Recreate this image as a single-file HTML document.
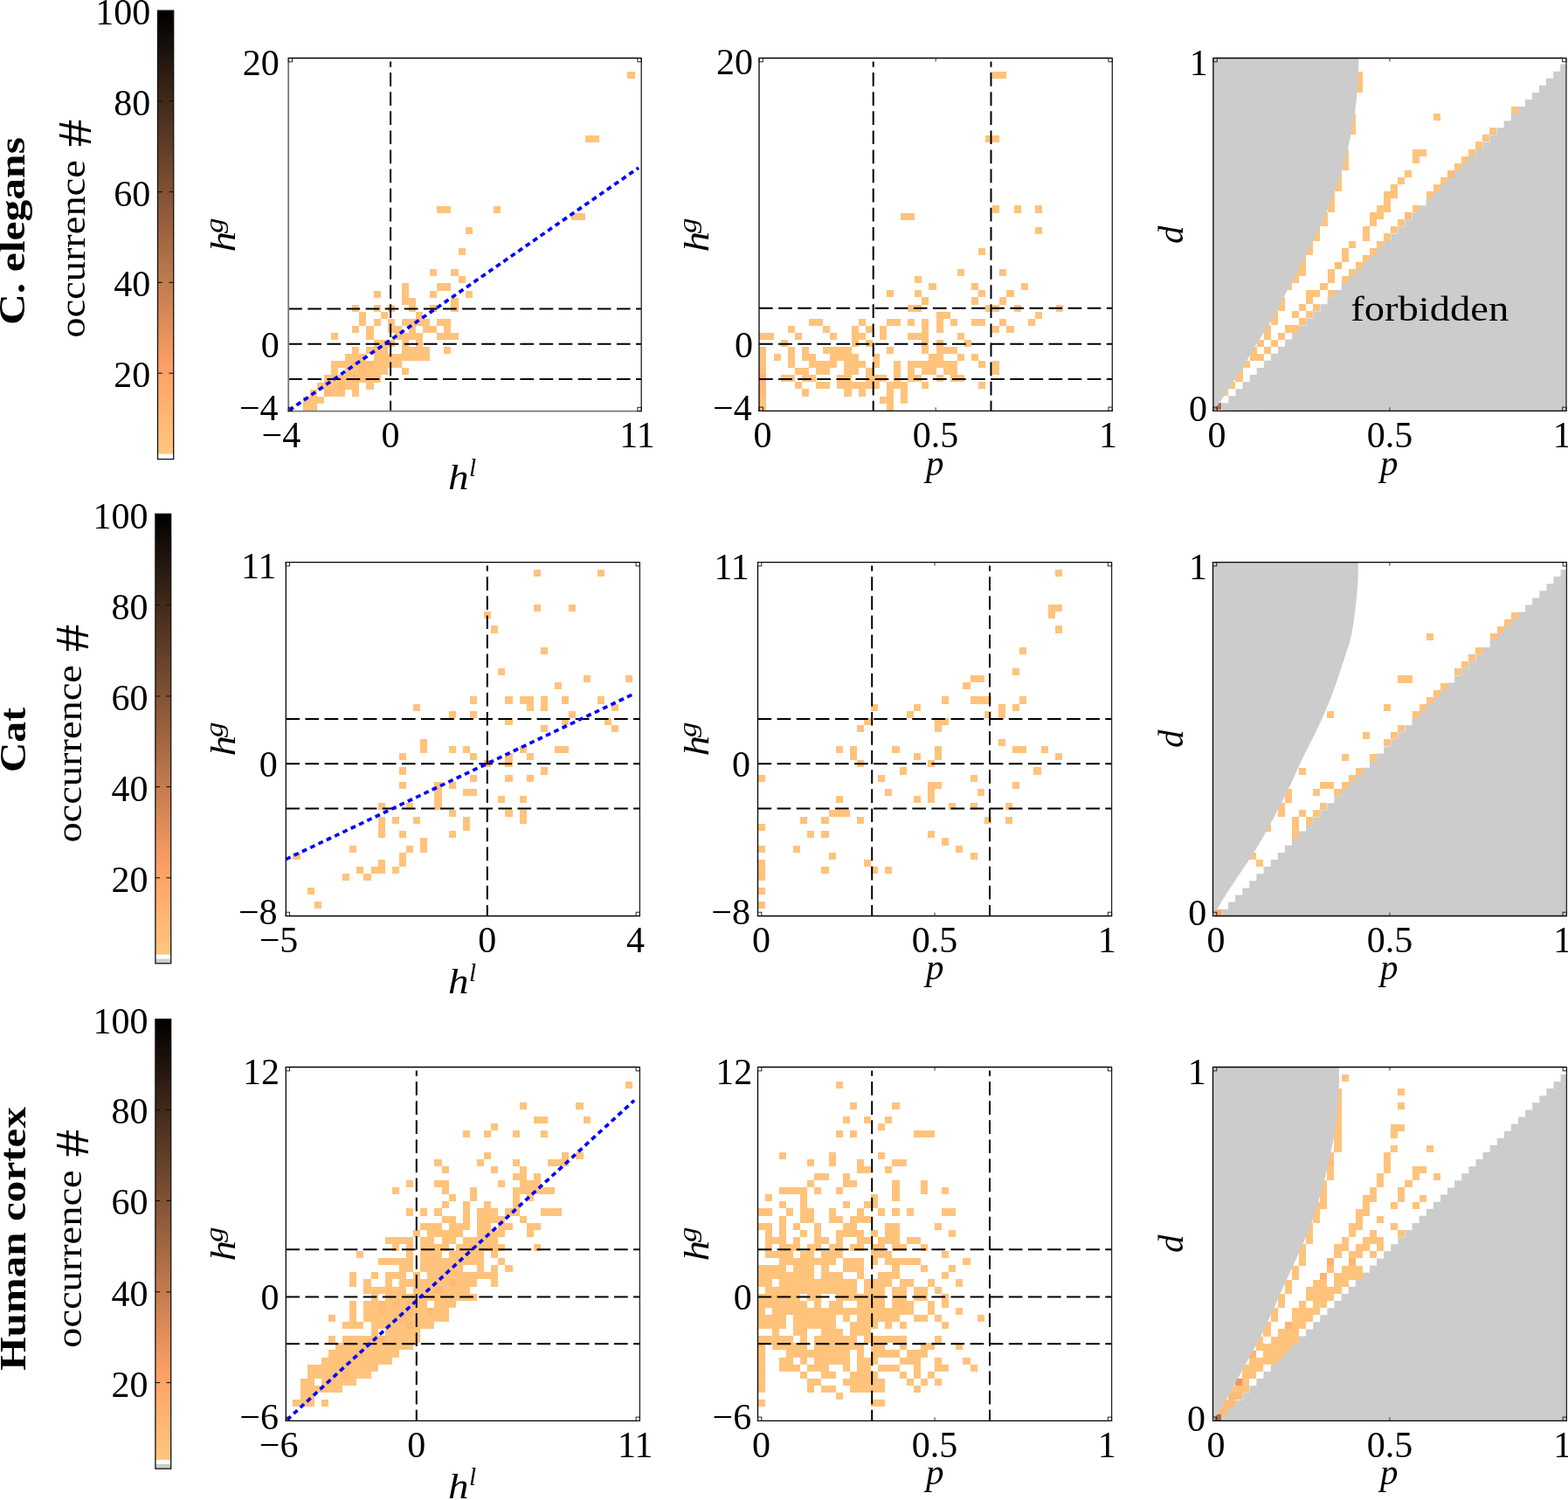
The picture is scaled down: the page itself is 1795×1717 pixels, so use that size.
<!DOCTYPE html>
<html><head><meta charset="utf-8"><title>Figure</title><style>html,body{margin:0;padding:0;background:#fff;overflow:hidden}svg{display:block}</style></head><body>
<svg width="1795" height="1717" viewBox="0 0 1795 1717" font-family="'Liberation Serif', serif">
<rect width="1795" height="1717" fill="#fff"/>
<defs><linearGradient id="cb12" x1="0" y1="0" x2="0" y2="1"><stop offset="0.000" stop-color="#000000"/><stop offset="0.050" stop-color="#100a06"/><stop offset="0.100" stop-color="#1f140d"/><stop offset="0.150" stop-color="#2f1e13"/><stop offset="0.200" stop-color="#3f2819"/><stop offset="0.250" stop-color="#4f3220"/><stop offset="0.300" stop-color="#5e3c26"/><stop offset="0.350" stop-color="#6e462c"/><stop offset="0.400" stop-color="#7e5033"/><stop offset="0.450" stop-color="#8e5a39"/><stop offset="0.500" stop-color="#9d643f"/><stop offset="0.550" stop-color="#ad6e46"/><stop offset="0.600" stop-color="#bd784c"/><stop offset="0.650" stop-color="#cd8152"/><stop offset="0.700" stop-color="#dc8b59"/><stop offset="0.750" stop-color="#ec955f"/><stop offset="0.800" stop-color="#fc9f65"/><stop offset="0.850" stop-color="#ffa96c"/><stop offset="0.900" stop-color="#ffb372"/><stop offset="0.950" stop-color="#ffbd79"/><stop offset="1.000" stop-color="#ffc77f"/></linearGradient></defs>
<rect x="180.5" y="12.1" width="18.19999999999999" height="507.70000000000005" fill="url(#cb12)"/>
<rect x="180.5" y="519.8000000000001" width="18.19999999999999" height="5.7999999999999545" fill="#fff"/>
<rect x="180.5" y="12.1" width="18.19999999999999" height="513.5" fill="none" stroke="#111" stroke-width="1.3"/>
<text x="109.18" y="27.70" font-size="42">100</text>
<line x1="180.5" y1="115.70" x2="185.7" y2="115.70" stroke="#150c06" stroke-width="1.1"/>
<line x1="193.5" y1="115.70" x2="198.7" y2="115.70" stroke="#150c06" stroke-width="1.1"/>
<text x="130.18" y="131.60" font-size="42">80</text>
<line x1="180.5" y1="219.60" x2="185.7" y2="219.60" stroke="#150c06" stroke-width="1.1"/>
<line x1="193.5" y1="219.60" x2="198.7" y2="219.60" stroke="#150c06" stroke-width="1.1"/>
<text x="130.18" y="235.50" font-size="42">60</text>
<line x1="180.5" y1="323.40" x2="185.7" y2="323.40" stroke="#150c06" stroke-width="1.1"/>
<line x1="193.5" y1="323.40" x2="198.7" y2="323.40" stroke="#150c06" stroke-width="1.1"/>
<text x="130.18" y="339.30" font-size="42">40</text>
<line x1="180.5" y1="427.20" x2="185.7" y2="427.20" stroke="#150c06" stroke-width="1.1"/>
<line x1="193.5" y1="427.20" x2="198.7" y2="427.20" stroke="#150c06" stroke-width="1.1"/>
<text x="130.18" y="443.10" font-size="42">20</text>
<defs><clipPath id="clip00"><rect x="330.20" y="66.50" width="404.00" height="404.10"/></clipPath></defs>
<g clip-path="url(#clip00)">
<g shape-rendering="crispEdges">
<rect x="718.44" y="81.96" width="8.08" height="8.08" fill="#ffc37c"/>
<rect x="669.96" y="154.70" width="16.16" height="8.08" fill="#ffc37c"/>
<rect x="500.28" y="235.52" width="16.16" height="8.08" fill="#ffc37c"/>
<rect x="564.92" y="235.52" width="8.08" height="8.08" fill="#ffc37c"/>
<rect x="653.80" y="243.60" width="16.16" height="8.08" fill="#ffc37c"/>
<rect x="532.60" y="259.77" width="8.08" height="8.08" fill="#ffc37c"/>
<rect x="524.52" y="284.01" width="8.08" height="8.08" fill="#ffc37c"/>
<rect x="492.20" y="308.26" width="8.08" height="8.08" fill="#ffc37c"/>
<rect x="516.44" y="308.26" width="8.08" height="8.08" fill="#ffc37c"/>
<rect x="524.52" y="316.34" width="8.08" height="8.08" fill="#ffc37c"/>
<rect x="459.88" y="324.42" width="8.08" height="8.08" fill="#ffc37c"/>
<rect x="500.28" y="324.42" width="16.16" height="8.08" fill="#ffc37c"/>
<rect x="427.56" y="332.51" width="8.08" height="8.08" fill="#ffc37c"/>
<rect x="459.88" y="332.51" width="8.08" height="8.08" fill="#ffc37c"/>
<rect x="492.20" y="332.51" width="8.08" height="8.08" fill="#ffc37c"/>
<rect x="532.60" y="332.51" width="8.08" height="8.08" fill="#ffc37c"/>
<rect x="459.88" y="340.59" width="16.16" height="8.08" fill="#ffc37c"/>
<rect x="516.44" y="340.59" width="8.08" height="8.08" fill="#ffc37c"/>
<rect x="403.32" y="348.67" width="8.08" height="8.08" fill="#ffc37c"/>
<rect x="427.56" y="348.67" width="8.08" height="8.08" fill="#ffc37c"/>
<rect x="443.72" y="348.67" width="8.08" height="8.08" fill="#ffc37c"/>
<rect x="467.96" y="348.67" width="8.08" height="8.08" fill="#ffc37c"/>
<rect x="492.20" y="348.67" width="8.08" height="8.08" fill="#ffc37c"/>
<rect x="516.44" y="348.67" width="8.08" height="8.08" fill="#ffc37c"/>
<rect x="411.40" y="356.75" width="8.08" height="8.08" fill="#ffc37c"/>
<rect x="435.64" y="356.75" width="8.08" height="8.08" fill="#ffc37c"/>
<rect x="476.04" y="356.75" width="8.08" height="8.08" fill="#ffc37c"/>
<rect x="411.40" y="364.83" width="8.08" height="8.08" fill="#ffc37c"/>
<rect x="427.56" y="364.83" width="8.08" height="8.08" fill="#ffc37c"/>
<rect x="443.72" y="364.83" width="8.08" height="8.08" fill="#ffc37c"/>
<rect x="459.88" y="364.83" width="32.32" height="8.08" fill="#ffc37c"/>
<rect x="500.28" y="364.83" width="16.16" height="8.08" fill="#ffc37c"/>
<rect x="403.32" y="372.92" width="8.08" height="8.08" fill="#ffc37c"/>
<rect x="419.48" y="372.92" width="8.08" height="8.08" fill="#ffc37c"/>
<rect x="443.72" y="372.92" width="16.16" height="8.08" fill="#ffc37c"/>
<rect x="467.96" y="372.92" width="8.08" height="8.08" fill="#ffc37c"/>
<rect x="484.12" y="372.92" width="16.16" height="8.08" fill="#ffc37c"/>
<rect x="508.36" y="372.92" width="8.08" height="8.08" fill="#ffc37c"/>
<rect x="379.08" y="381.00" width="8.08" height="8.08" fill="#ffc37c"/>
<rect x="419.48" y="381.00" width="8.08" height="8.08" fill="#ffc37c"/>
<rect x="451.80" y="381.00" width="32.32" height="8.08" fill="#ffc37c"/>
<rect x="500.28" y="381.00" width="24.24" height="8.08" fill="#ffc37c"/>
<rect x="427.56" y="389.08" width="24.24" height="8.08" fill="#ffc37c"/>
<rect x="459.88" y="389.08" width="8.08" height="8.08" fill="#ffc37c"/>
<rect x="476.04" y="389.08" width="8.08" height="8.08" fill="#ffc37c"/>
<rect x="403.32" y="397.16" width="8.08" height="8.08" fill="#ffc37c"/>
<rect x="419.48" y="397.16" width="24.24" height="8.08" fill="#ffc37c"/>
<rect x="459.88" y="397.16" width="32.32" height="8.08" fill="#ffc37c"/>
<rect x="508.36" y="397.16" width="8.08" height="8.08" fill="#ffc37c"/>
<rect x="395.24" y="405.24" width="24.24" height="8.08" fill="#ffc37c"/>
<rect x="427.56" y="405.24" width="64.64" height="8.08" fill="#ffc37c"/>
<rect x="379.08" y="413.33" width="32.32" height="8.08" fill="#ffc37c"/>
<rect x="411.40" y="413.33" width="16.16" height="8.08" fill="#ffbb77"/>
<rect x="427.56" y="413.33" width="32.32" height="8.08" fill="#ffc37c"/>
<rect x="379.08" y="421.41" width="8.08" height="8.08" fill="#ffc37c"/>
<rect x="395.24" y="421.41" width="16.16" height="8.08" fill="#ffc37c"/>
<rect x="411.40" y="421.41" width="8.08" height="8.08" fill="#ffbb77"/>
<rect x="419.48" y="421.41" width="24.24" height="8.08" fill="#ffc37c"/>
<rect x="459.88" y="421.41" width="8.08" height="8.08" fill="#ffc37c"/>
<rect x="371.00" y="429.49" width="32.32" height="8.08" fill="#ffc37c"/>
<rect x="403.32" y="429.49" width="8.08" height="8.08" fill="#ffbb77"/>
<rect x="411.40" y="429.49" width="24.24" height="8.08" fill="#ffc37c"/>
<rect x="362.92" y="437.57" width="24.24" height="8.08" fill="#ffc37c"/>
<rect x="387.16" y="437.57" width="8.08" height="8.08" fill="#ffbb77"/>
<rect x="395.24" y="437.57" width="16.16" height="8.08" fill="#ffc37c"/>
<rect x="419.48" y="437.57" width="8.08" height="8.08" fill="#ffc37c"/>
<rect x="354.84" y="445.65" width="8.08" height="8.08" fill="#ffc37c"/>
<rect x="371.00" y="445.65" width="8.08" height="8.08" fill="#ffbb77"/>
<rect x="379.08" y="445.65" width="16.16" height="8.08" fill="#ffc37c"/>
<rect x="403.32" y="445.65" width="8.08" height="8.08" fill="#ffc37c"/>
<rect x="346.76" y="453.74" width="24.24" height="8.08" fill="#ffc37c"/>
<rect x="346.76" y="461.82" width="16.16" height="8.08" fill="#ffc37c"/>
</g>
</g>
<line x1="330.20" y1="353.50" x2="734.20" y2="353.50" stroke="#000" stroke-width="2" stroke-dasharray="15.7 6.4"/>
<line x1="330.20" y1="393.70" x2="734.20" y2="393.70" stroke="#000" stroke-width="2" stroke-dasharray="15.7 6.4"/>
<line x1="330.20" y1="434.10" x2="734.20" y2="434.10" stroke="#000" stroke-width="2" stroke-dasharray="15.7 6.4"/>
<line x1="447.10" y1="70.50" x2="447.10" y2="470.60" stroke="#000" stroke-width="2" stroke-dasharray="15.7 6.4" stroke-dashoffset="9.5"/>
<line x1="331.0" y1="469.7" x2="731.0" y2="192.1" stroke="#0000ff" stroke-width="3.7" stroke-dasharray="5.8 4.5"/>
<line x1="330.20" y1="66.50" x2="734.20" y2="66.50" stroke="#000" stroke-width="1.3"/>
<line x1="734.20" y1="66.50" x2="734.20" y2="470.60" stroke="#222" stroke-width="1.3"/>
<line x1="330.20" y1="65.90" x2="330.20" y2="471.20" stroke="#777" stroke-width="1.8"/>
<line x1="329.60" y1="470.60" x2="734.80" y2="470.60" stroke="#777" stroke-width="1.8"/>
<rect x="330.20" y="66.50" width="4.3" height="4.3" fill="none" stroke="#111" stroke-width="0.9"/>
<rect x="729.90" y="66.50" width="4.3" height="4.3" fill="none" stroke="#111" stroke-width="0.9"/>
<rect x="330.20" y="466.30" width="4.3" height="4.3" fill="none" stroke="#111" stroke-width="0.9"/>
<rect x="729.90" y="466.30" width="4.3" height="4.3" fill="none" stroke="#111" stroke-width="0.9"/>
<text x="277.68" y="85.50" font-size="42">20</text>
<text x="298.68" y="408.60" font-size="42">0</text>
<text x="273.90" y="480.80" font-size="42">−4</text>
<text x="299.51" y="511.90" font-size="42">−4</text>
<text x="436.60" y="511.90" font-size="42">0</text>
<text x="709.31" y="511.90" font-size="42">11</text>
<defs><clipPath id="clip01"><rect x="869.00" y="66.50" width="404.30" height="403.90"/></clipPath></defs>
<g clip-path="url(#clip01)">
<g shape-rendering="crispEdges">
<rect x="1136.24" y="81.96" width="16.17" height="8.08" fill="#ffc37c"/>
<rect x="1128.15" y="154.66" width="16.17" height="8.08" fill="#ffc37c"/>
<rect x="1136.24" y="235.44" width="8.09" height="8.08" fill="#ffc37c"/>
<rect x="1160.50" y="235.44" width="8.09" height="8.08" fill="#ffc37c"/>
<rect x="1184.75" y="235.44" width="8.09" height="8.08" fill="#ffc37c"/>
<rect x="1031.12" y="243.52" width="16.17" height="8.08" fill="#ffc37c"/>
<rect x="1184.75" y="259.67" width="8.09" height="8.08" fill="#ffc37c"/>
<rect x="1120.07" y="283.91" width="8.09" height="8.08" fill="#ffc37c"/>
<rect x="1095.81" y="308.14" width="8.09" height="8.08" fill="#ffc37c"/>
<rect x="1144.32" y="308.14" width="8.09" height="8.08" fill="#ffc37c"/>
<rect x="1047.29" y="316.22" width="8.09" height="8.08" fill="#ffc37c"/>
<rect x="1063.46" y="324.30" width="8.09" height="8.08" fill="#ffc37c"/>
<rect x="1111.98" y="324.30" width="8.09" height="8.08" fill="#ffc37c"/>
<rect x="1168.58" y="324.30" width="8.09" height="8.08" fill="#ffc37c"/>
<rect x="1014.95" y="332.37" width="8.09" height="8.08" fill="#ffc37c"/>
<rect x="1047.29" y="332.37" width="8.09" height="8.08" fill="#ffc37c"/>
<rect x="1120.07" y="332.37" width="8.09" height="8.08" fill="#ffc37c"/>
<rect x="1152.41" y="332.37" width="8.09" height="8.08" fill="#ffc37c"/>
<rect x="1055.38" y="340.45" width="8.09" height="8.08" fill="#ffc37c"/>
<rect x="1111.98" y="340.45" width="8.09" height="8.08" fill="#ffc37c"/>
<rect x="1144.32" y="340.45" width="8.09" height="8.08" fill="#ffc37c"/>
<rect x="1039.21" y="348.53" width="16.17" height="8.08" fill="#ffc37c"/>
<rect x="1128.15" y="348.53" width="16.17" height="8.08" fill="#ffc37c"/>
<rect x="1160.50" y="348.53" width="8.09" height="8.08" fill="#ffc37c"/>
<rect x="1209.01" y="348.53" width="8.09" height="8.08" fill="#ffc37c"/>
<rect x="1071.55" y="356.61" width="16.17" height="8.08" fill="#ffc37c"/>
<rect x="1184.75" y="356.61" width="8.09" height="8.08" fill="#ffc37c"/>
<rect x="926.00" y="364.69" width="16.17" height="8.08" fill="#ffc37c"/>
<rect x="982.60" y="364.69" width="8.09" height="8.08" fill="#ffc37c"/>
<rect x="1014.95" y="364.69" width="16.17" height="8.08" fill="#ffc37c"/>
<rect x="1039.21" y="364.69" width="8.09" height="8.08" fill="#ffc37c"/>
<rect x="1055.38" y="364.69" width="8.09" height="8.08" fill="#ffc37c"/>
<rect x="1071.55" y="364.69" width="8.09" height="8.08" fill="#ffc37c"/>
<rect x="1087.72" y="364.69" width="8.09" height="8.08" fill="#ffc37c"/>
<rect x="1111.98" y="364.69" width="16.17" height="8.08" fill="#ffc37c"/>
<rect x="1144.32" y="364.69" width="8.09" height="8.08" fill="#ffc37c"/>
<rect x="1176.67" y="364.69" width="8.09" height="8.08" fill="#ffc37c"/>
<rect x="901.74" y="372.76" width="8.09" height="8.08" fill="#ffc37c"/>
<rect x="942.17" y="372.76" width="8.09" height="8.08" fill="#ffc37c"/>
<rect x="974.52" y="372.76" width="8.09" height="8.08" fill="#ffc37c"/>
<rect x="990.69" y="372.76" width="8.09" height="8.08" fill="#ffc37c"/>
<rect x="1006.86" y="372.76" width="8.09" height="8.08" fill="#ffc37c"/>
<rect x="1055.38" y="372.76" width="8.09" height="8.08" fill="#ffc37c"/>
<rect x="1071.55" y="372.76" width="8.09" height="8.08" fill="#ffc37c"/>
<rect x="1136.24" y="372.76" width="8.09" height="8.08" fill="#ffc37c"/>
<rect x="1152.41" y="372.76" width="8.09" height="8.08" fill="#ffc37c"/>
<rect x="869.40" y="380.84" width="16.17" height="8.08" fill="#ffc37c"/>
<rect x="909.83" y="380.84" width="8.09" height="8.08" fill="#ffc37c"/>
<rect x="950.26" y="380.84" width="8.09" height="8.08" fill="#ffc37c"/>
<rect x="974.52" y="380.84" width="16.17" height="8.08" fill="#ffc37c"/>
<rect x="1006.86" y="380.84" width="8.09" height="8.08" fill="#ffc37c"/>
<rect x="1039.21" y="380.84" width="24.26" height="8.08" fill="#ffc37c"/>
<rect x="1095.81" y="380.84" width="8.09" height="8.08" fill="#ffc37c"/>
<rect x="893.66" y="388.92" width="8.09" height="8.08" fill="#ffc37c"/>
<rect x="974.52" y="388.92" width="8.09" height="8.08" fill="#ffc37c"/>
<rect x="990.69" y="388.92" width="8.09" height="8.08" fill="#ffc37c"/>
<rect x="1055.38" y="388.92" width="8.09" height="8.08" fill="#ffc37c"/>
<rect x="1071.55" y="388.92" width="8.09" height="8.08" fill="#ffc37c"/>
<rect x="1103.89" y="388.92" width="8.09" height="8.08" fill="#ffc37c"/>
<rect x="869.40" y="397.00" width="8.09" height="8.08" fill="#ffc37c"/>
<rect x="901.74" y="397.00" width="8.09" height="8.08" fill="#ffc37c"/>
<rect x="917.92" y="397.00" width="8.09" height="8.08" fill="#ffc37c"/>
<rect x="942.17" y="397.00" width="32.34" height="8.08" fill="#ffc37c"/>
<rect x="1014.95" y="397.00" width="8.09" height="8.08" fill="#ffc37c"/>
<rect x="1055.38" y="397.00" width="8.09" height="8.08" fill="#ffc37c"/>
<rect x="1071.55" y="397.00" width="24.26" height="8.08" fill="#ffc37c"/>
<rect x="869.40" y="405.08" width="8.09" height="8.08" fill="#ffc37c"/>
<rect x="885.57" y="405.08" width="8.09" height="8.08" fill="#ffc37c"/>
<rect x="901.74" y="405.08" width="8.09" height="8.08" fill="#ffc37c"/>
<rect x="917.92" y="405.08" width="16.17" height="8.08" fill="#ffc37c"/>
<rect x="950.26" y="405.08" width="32.34" height="8.08" fill="#ffc37c"/>
<rect x="998.78" y="405.08" width="8.09" height="8.08" fill="#ffc37c"/>
<rect x="1063.46" y="405.08" width="16.17" height="8.08" fill="#ffc37c"/>
<rect x="1095.81" y="405.08" width="8.09" height="8.08" fill="#ffc37c"/>
<rect x="1111.98" y="405.08" width="8.09" height="8.08" fill="#ffc37c"/>
<rect x="869.40" y="413.15" width="8.09" height="8.08" fill="#ffc37c"/>
<rect x="901.74" y="413.15" width="8.09" height="8.08" fill="#ffc37c"/>
<rect x="926.00" y="413.15" width="32.34" height="8.08" fill="#ffc37c"/>
<rect x="966.43" y="413.15" width="24.26" height="8.08" fill="#ffc37c"/>
<rect x="998.78" y="413.15" width="8.09" height="8.08" fill="#ffc37c"/>
<rect x="1023.03" y="413.15" width="8.09" height="8.08" fill="#ffc37c"/>
<rect x="1039.21" y="413.15" width="56.60" height="8.08" fill="#ffc37c"/>
<rect x="1120.07" y="413.15" width="8.09" height="8.08" fill="#ffc37c"/>
<rect x="1136.24" y="413.15" width="8.09" height="8.08" fill="#ffc37c"/>
<rect x="869.40" y="421.23" width="8.09" height="8.08" fill="#ffbb77"/>
<rect x="909.83" y="421.23" width="16.17" height="8.08" fill="#ffc37c"/>
<rect x="934.09" y="421.23" width="16.17" height="8.08" fill="#ffc37c"/>
<rect x="966.43" y="421.23" width="16.17" height="8.08" fill="#ffc37c"/>
<rect x="990.69" y="421.23" width="8.09" height="8.08" fill="#ffc37c"/>
<rect x="1023.03" y="421.23" width="8.09" height="8.08" fill="#ffc37c"/>
<rect x="1039.21" y="421.23" width="8.09" height="8.08" fill="#ffc37c"/>
<rect x="1055.38" y="421.23" width="16.17" height="8.08" fill="#ffc37c"/>
<rect x="1079.64" y="421.23" width="16.17" height="8.08" fill="#ffc37c"/>
<rect x="1136.24" y="421.23" width="8.09" height="8.08" fill="#ffc37c"/>
<rect x="869.40" y="429.31" width="8.09" height="8.08" fill="#ffb372"/>
<rect x="893.66" y="429.31" width="16.17" height="8.08" fill="#ffc37c"/>
<rect x="917.92" y="429.31" width="16.17" height="8.08" fill="#ffc37c"/>
<rect x="958.35" y="429.31" width="16.17" height="8.08" fill="#ffc37c"/>
<rect x="990.69" y="429.31" width="24.26" height="8.08" fill="#ffc37c"/>
<rect x="1023.03" y="429.31" width="8.09" height="8.08" fill="#ffc37c"/>
<rect x="1039.21" y="429.31" width="16.17" height="8.08" fill="#ffc37c"/>
<rect x="1071.55" y="429.31" width="8.09" height="8.08" fill="#ffc37c"/>
<rect x="1087.72" y="429.31" width="16.17" height="8.08" fill="#ffc37c"/>
<rect x="869.40" y="437.39" width="8.09" height="8.08" fill="#ffbb77"/>
<rect x="909.83" y="437.39" width="8.09" height="8.08" fill="#ffc37c"/>
<rect x="934.09" y="437.39" width="16.17" height="8.08" fill="#ffc37c"/>
<rect x="958.35" y="437.39" width="48.52" height="8.08" fill="#ffc37c"/>
<rect x="1014.95" y="437.39" width="24.26" height="8.08" fill="#ffc37c"/>
<rect x="1055.38" y="437.39" width="8.09" height="8.08" fill="#ffc37c"/>
<rect x="1120.07" y="437.39" width="8.09" height="8.08" fill="#ffc37c"/>
<rect x="869.40" y="445.47" width="8.09" height="8.08" fill="#ffbb77"/>
<rect x="917.92" y="445.47" width="8.09" height="8.08" fill="#ffc37c"/>
<rect x="966.43" y="445.47" width="8.09" height="8.08" fill="#ffc37c"/>
<rect x="982.60" y="445.47" width="8.09" height="8.08" fill="#ffc37c"/>
<rect x="1014.95" y="445.47" width="8.09" height="8.08" fill="#ffc37c"/>
<rect x="1031.12" y="445.47" width="8.09" height="8.08" fill="#ffc37c"/>
<rect x="869.40" y="453.54" width="8.09" height="8.08" fill="#ffc37c"/>
<rect x="1006.86" y="453.54" width="16.17" height="8.08" fill="#ffc37c"/>
<rect x="1031.12" y="453.54" width="8.09" height="8.08" fill="#ffc37c"/>
<rect x="869.40" y="461.62" width="8.09" height="8.08" fill="#ffc37c"/>
<rect x="1014.95" y="461.62" width="8.09" height="8.08" fill="#ffc37c"/>
</g>
</g>
<line x1="869.00" y1="352.80" x2="1273.30" y2="352.80" stroke="#000" stroke-width="2" stroke-dasharray="15.7 6.4"/>
<line x1="869.00" y1="393.70" x2="1273.30" y2="393.70" stroke="#000" stroke-width="2" stroke-dasharray="15.7 6.4"/>
<line x1="869.00" y1="434.00" x2="1273.30" y2="434.00" stroke="#000" stroke-width="2" stroke-dasharray="15.7 6.4"/>
<line x1="999.70" y1="70.50" x2="999.70" y2="470.40" stroke="#000" stroke-width="2" stroke-dasharray="15.7 6.4" stroke-dashoffset="9.5"/>
<line x1="1134.50" y1="70.50" x2="1134.50" y2="470.40" stroke="#000" stroke-width="2" stroke-dasharray="15.7 6.4" stroke-dashoffset="9.5"/>
<line x1="869.00" y1="66.50" x2="1273.30" y2="66.50" stroke="#000" stroke-width="1.3"/>
<line x1="1273.30" y1="66.50" x2="1273.30" y2="470.40" stroke="#222" stroke-width="1.3"/>
<line x1="869.00" y1="65.90" x2="869.00" y2="471.00" stroke="#000" stroke-width="1.3"/>
<line x1="868.40" y1="470.40" x2="1273.90" y2="470.40" stroke="#000" stroke-width="1.3"/>
<rect x="869.00" y="66.50" width="4.3" height="4.3" fill="none" stroke="#111" stroke-width="0.9"/>
<rect x="1269.00" y="66.50" width="4.3" height="4.3" fill="none" stroke="#111" stroke-width="0.9"/>
<rect x="869.00" y="466.10" width="4.3" height="4.3" fill="none" stroke="#111" stroke-width="0.9"/>
<rect x="1269.00" y="466.10" width="4.3" height="4.3" fill="none" stroke="#111" stroke-width="0.9"/>
<line x1="1071.15" y1="66.5" x2="1071.15" y2="70.5" stroke="#333" stroke-width="1"/>
<line x1="1071.15" y1="470.4" x2="1071.15" y2="466.4" stroke="#333" stroke-width="1"/>
<text x="819.88" y="85.30" font-size="42">20</text>
<text x="840.88" y="408.60" font-size="42">0</text>
<text x="816.10" y="480.60" font-size="42">−4</text>
<text x="862.50" y="511.70" font-size="42">0</text>
<text x="1044.85" y="511.70" font-size="42">0.5</text>
<text x="1258.07" y="511.70" font-size="42">1</text>
<defs><clipPath id="clip02"><rect x="1388.90" y="66.50" width="404.10" height="403.90"/></clipPath></defs>
<g clip-path="url(#clip02)">
<polygon points="1796.00,73.58 1786.22,73.58 1786.22,81.66 1778.14,81.66 1778.14,89.73 1770.05,89.73 1770.05,97.81 1761.97,97.81 1761.97,105.89 1753.89,105.89 1753.89,113.97 1745.81,113.97 1745.81,122.05 1737.73,122.05 1737.73,130.12 1729.64,130.12 1729.64,138.20 1721.56,138.20 1721.56,146.28 1713.48,146.28 1713.48,154.36 1705.40,154.36 1705.40,162.44 1697.32,162.44 1697.32,170.51 1689.23,170.51 1689.23,178.59 1681.15,178.59 1681.15,186.67 1673.07,186.67 1673.07,194.75 1664.99,194.75 1664.99,202.83 1656.91,202.83 1656.91,210.90 1648.82,210.90 1648.82,218.98 1640.74,218.98 1640.74,227.06 1632.66,227.06 1632.66,235.14 1624.58,235.14 1624.58,243.22 1616.50,243.22 1616.50,251.29 1608.41,251.29 1608.41,259.37 1600.33,259.37 1600.33,267.45 1592.25,267.45 1592.25,275.53 1584.17,275.53 1584.17,283.61 1576.09,283.61 1576.09,291.68 1568.00,291.68 1568.00,299.76 1559.92,299.76 1559.92,307.84 1551.84,307.84 1551.84,315.92 1543.76,315.92 1543.76,324.00 1535.68,324.00 1535.68,332.07 1527.59,332.07 1527.59,340.15 1519.51,340.15 1519.51,348.23 1511.43,348.23 1511.43,356.31 1503.35,356.31 1503.35,364.39 1495.27,364.39 1495.27,372.46 1487.18,372.46 1487.18,380.54 1479.10,380.54 1479.10,388.62 1471.02,388.62 1471.02,396.70 1462.94,396.70 1462.94,404.78 1454.86,404.78 1454.86,412.85 1446.77,412.85 1446.77,420.93 1438.69,420.93 1438.69,429.01 1430.61,429.01 1430.61,437.09 1422.53,437.09 1422.53,445.17 1414.45,445.17 1414.45,453.24 1406.36,453.24 1406.36,461.32 1398.28,461.32 1398.28,469.40 1796.00,473.40" fill="#cccccc"/>
<g shape-rendering="crispEdges">
<rect x="1551.84" y="81.66" width="8.08" height="8.08" fill="#ffc37c"/>
<rect x="1551.84" y="89.73" width="8.08" height="8.08" fill="#ffc37c"/>
<rect x="1551.84" y="97.81" width="8.08" height="8.08" fill="#ffc37c"/>
<rect x="1729.64" y="122.05" width="8.08" height="8.08" fill="#ffc37c"/>
<rect x="1543.76" y="130.12" width="8.08" height="8.08" fill="#ffc37c"/>
<rect x="1640.74" y="130.12" width="8.08" height="8.08" fill="#ffc37c"/>
<rect x="1543.76" y="138.20" width="8.08" height="8.08" fill="#ffc37c"/>
<rect x="1543.76" y="146.28" width="8.08" height="8.08" fill="#ffc37c"/>
<rect x="1705.40" y="146.28" width="8.08" height="8.08" fill="#ffc37c"/>
<rect x="1697.32" y="154.36" width="8.08" height="8.08" fill="#ffc37c"/>
<rect x="1689.23" y="162.44" width="8.08" height="8.08" fill="#ffc37c"/>
<rect x="1535.68" y="170.51" width="8.08" height="8.08" fill="#ffc37c"/>
<rect x="1616.50" y="170.51" width="16.16" height="8.08" fill="#ffc37c"/>
<rect x="1681.15" y="170.51" width="8.08" height="8.08" fill="#ffc37c"/>
<rect x="1535.68" y="178.59" width="8.08" height="8.08" fill="#ffc37c"/>
<rect x="1616.50" y="178.59" width="8.08" height="8.08" fill="#ffc37c"/>
<rect x="1673.07" y="178.59" width="8.08" height="8.08" fill="#ffc37c"/>
<rect x="1535.68" y="186.67" width="8.08" height="8.08" fill="#ffc37c"/>
<rect x="1664.99" y="186.67" width="8.08" height="8.08" fill="#ffc37c"/>
<rect x="1527.59" y="194.75" width="8.08" height="8.08" fill="#ffc37c"/>
<rect x="1608.41" y="194.75" width="8.08" height="8.08" fill="#ffc37c"/>
<rect x="1656.91" y="194.75" width="8.08" height="8.08" fill="#ffbb77"/>
<rect x="1527.59" y="202.83" width="8.08" height="8.08" fill="#ffc37c"/>
<rect x="1600.33" y="202.83" width="8.08" height="8.08" fill="#ffc37c"/>
<rect x="1648.82" y="202.83" width="8.08" height="8.08" fill="#ffc37c"/>
<rect x="1527.59" y="210.90" width="8.08" height="8.08" fill="#ffc37c"/>
<rect x="1592.25" y="210.90" width="8.08" height="8.08" fill="#ffc37c"/>
<rect x="1640.74" y="210.90" width="8.08" height="8.08" fill="#ffc37c"/>
<rect x="1519.51" y="218.98" width="8.08" height="8.08" fill="#ffc37c"/>
<rect x="1584.17" y="218.98" width="16.16" height="8.08" fill="#ffc37c"/>
<rect x="1632.66" y="218.98" width="8.08" height="8.08" fill="#ffc37c"/>
<rect x="1519.51" y="227.06" width="8.08" height="8.08" fill="#ffc37c"/>
<rect x="1584.17" y="227.06" width="8.08" height="8.08" fill="#ffc37c"/>
<rect x="1519.51" y="235.14" width="8.08" height="8.08" fill="#ffc37c"/>
<rect x="1576.09" y="235.14" width="16.16" height="8.08" fill="#ffc37c"/>
<rect x="1616.50" y="235.14" width="8.08" height="8.08" fill="#ffc37c"/>
<rect x="1511.43" y="243.22" width="8.08" height="8.08" fill="#ffc37c"/>
<rect x="1568.00" y="243.22" width="16.16" height="8.08" fill="#ffc37c"/>
<rect x="1608.41" y="243.22" width="8.08" height="8.08" fill="#ffbb77"/>
<rect x="1511.43" y="251.29" width="8.08" height="8.08" fill="#ffc37c"/>
<rect x="1568.00" y="251.29" width="8.08" height="8.08" fill="#ffc37c"/>
<rect x="1600.33" y="251.29" width="8.08" height="8.08" fill="#ffc37c"/>
<rect x="1503.35" y="259.37" width="8.08" height="8.08" fill="#ffc37c"/>
<rect x="1559.92" y="259.37" width="8.08" height="8.08" fill="#ffc37c"/>
<rect x="1592.25" y="259.37" width="8.08" height="8.08" fill="#ffc37c"/>
<rect x="1503.35" y="267.45" width="8.08" height="8.08" fill="#ffc37c"/>
<rect x="1559.92" y="267.45" width="8.08" height="8.08" fill="#ffc37c"/>
<rect x="1584.17" y="267.45" width="8.08" height="8.08" fill="#ffc37c"/>
<rect x="1495.27" y="275.53" width="8.08" height="8.08" fill="#ffc37c"/>
<rect x="1543.76" y="275.53" width="8.08" height="8.08" fill="#ffc37c"/>
<rect x="1576.09" y="275.53" width="8.08" height="8.08" fill="#ffc37c"/>
<rect x="1495.27" y="283.61" width="8.08" height="8.08" fill="#ffc37c"/>
<rect x="1535.68" y="283.61" width="8.08" height="8.08" fill="#ffc37c"/>
<rect x="1568.00" y="283.61" width="8.08" height="8.08" fill="#ffc37c"/>
<rect x="1487.18" y="291.68" width="8.08" height="8.08" fill="#ffc37c"/>
<rect x="1535.68" y="291.68" width="8.08" height="8.08" fill="#ffc37c"/>
<rect x="1559.92" y="291.68" width="8.08" height="8.08" fill="#ffc37c"/>
<rect x="1487.18" y="299.76" width="8.08" height="8.08" fill="#ffc37c"/>
<rect x="1527.59" y="299.76" width="8.08" height="8.08" fill="#ffbb77"/>
<rect x="1551.84" y="299.76" width="8.08" height="8.08" fill="#ffc37c"/>
<rect x="1479.10" y="307.84" width="16.16" height="8.08" fill="#ffc37c"/>
<rect x="1519.51" y="307.84" width="8.08" height="8.08" fill="#ffc37c"/>
<rect x="1543.76" y="307.84" width="8.08" height="8.08" fill="#ffc37c"/>
<rect x="1479.10" y="315.92" width="8.08" height="8.08" fill="#ffc37c"/>
<rect x="1519.51" y="315.92" width="8.08" height="8.08" fill="#ffc37c"/>
<rect x="1535.68" y="315.92" width="8.08" height="8.08" fill="#ffc37c"/>
<rect x="1471.02" y="324.00" width="8.08" height="8.08" fill="#ffc37c"/>
<rect x="1511.43" y="324.00" width="8.08" height="8.08" fill="#ffc37c"/>
<rect x="1495.27" y="332.07" width="16.16" height="8.08" fill="#ffc37c"/>
<rect x="1519.51" y="332.07" width="8.08" height="8.08" fill="#ffc37c"/>
<rect x="1462.94" y="340.15" width="8.08" height="8.08" fill="#ffc37c"/>
<rect x="1495.27" y="340.15" width="8.08" height="8.08" fill="#ffc37c"/>
<rect x="1462.94" y="348.23" width="8.08" height="8.08" fill="#ffc37c"/>
<rect x="1487.18" y="348.23" width="8.08" height="8.08" fill="#ffc37c"/>
<rect x="1503.35" y="348.23" width="8.08" height="8.08" fill="#ffc37c"/>
<rect x="1454.86" y="356.31" width="8.08" height="8.08" fill="#ffc37c"/>
<rect x="1479.10" y="356.31" width="8.08" height="8.08" fill="#ffc37c"/>
<rect x="1495.27" y="356.31" width="8.08" height="8.08" fill="#ffc37c"/>
<rect x="1454.86" y="364.39" width="8.08" height="8.08" fill="#ffc37c"/>
<rect x="1487.18" y="364.39" width="8.08" height="8.08" fill="#ffc37c"/>
<rect x="1446.77" y="372.46" width="8.08" height="8.08" fill="#ffc37c"/>
<rect x="1471.02" y="372.46" width="16.16" height="8.08" fill="#ffc37c"/>
<rect x="1446.77" y="380.54" width="8.08" height="8.08" fill="#ffc37c"/>
<rect x="1462.94" y="380.54" width="8.08" height="8.08" fill="#ffc37c"/>
<rect x="1438.69" y="388.62" width="8.08" height="8.08" fill="#ffc37c"/>
<rect x="1454.86" y="388.62" width="8.08" height="8.08" fill="#ffc37c"/>
<rect x="1430.61" y="396.70" width="8.08" height="8.08" fill="#ffc37c"/>
<rect x="1446.77" y="396.70" width="8.08" height="8.08" fill="#ffc37c"/>
<rect x="1430.61" y="404.78" width="16.16" height="8.08" fill="#ffc37c"/>
<rect x="1422.53" y="412.85" width="8.08" height="8.08" fill="#ffc37c"/>
<rect x="1414.45" y="420.93" width="8.08" height="8.08" fill="#ffc37c"/>
<rect x="1414.45" y="429.01" width="8.08" height="8.08" fill="#ffc37c"/>
<rect x="1406.36" y="437.09" width="8.08" height="8.08" fill="#ffc37c"/>
<rect x="1398.28" y="445.17" width="8.08" height="8.08" fill="#ffc37c"/>
<rect x="1390.20" y="461.32" width="8.08" height="8.08" fill="#ad6e46"/>
</g>
<polygon points="1388.90,470.40 1388.90,470.40 1389.22,469.98 1389.63,469.45 1390.11,468.82 1390.66,468.12 1391.24,467.36 1391.86,466.56 1392.50,465.73 1393.14,464.88 1393.78,464.04 1394.39,463.22 1394.96,462.44 1395.49,461.72 1395.96,461.05 1396.38,460.44 1396.78,459.85 1397.15,459.29 1397.51,458.74 1397.88,458.17 1398.26,457.58 1398.67,456.95 1399.11,456.26 1399.60,455.50 1400.16,454.66 1400.78,453.72 1401.48,452.67 1402.24,451.52 1403.06,450.30 1403.93,449.00 1404.83,447.65 1405.76,446.26 1406.71,444.84 1407.67,443.40 1408.63,441.97 1409.58,440.55 1410.51,439.16 1411.41,437.81 1412.28,436.50 1413.14,435.24 1413.98,434.01 1414.82,432.79 1415.66,431.57 1416.50,430.34 1417.36,429.08 1418.23,427.78 1419.12,426.42 1420.04,425.00 1421.00,423.49 1422.00,421.89 1423.05,420.16 1424.16,418.29 1425.31,416.31 1426.50,414.25 1427.71,412.14 1428.94,410.00 1430.16,407.85 1431.36,405.74 1432.55,403.68 1433.69,401.70 1434.78,399.83 1435.82,398.10 1436.77,396.52 1437.67,395.08 1438.51,393.74 1439.30,392.49 1440.08,391.29 1440.84,390.11 1441.60,388.94 1442.38,387.75 1443.19,386.50 1444.04,385.18 1444.94,383.75 1445.92,382.19 1446.98,380.49 1448.11,378.68 1449.30,376.78 1450.54,374.81 1451.81,372.79 1453.09,370.74 1454.36,368.67 1455.62,366.61 1456.85,364.59 1458.03,362.61 1459.15,360.70 1460.18,358.88 1461.15,357.13 1462.05,355.42 1462.91,353.74 1463.73,352.08 1464.52,350.46 1465.28,348.87 1466.03,347.30 1466.76,345.75 1467.49,344.23 1468.22,342.73 1468.96,341.24 1469.72,339.78 1470.49,338.34 1471.26,336.95 1472.03,335.58 1472.79,334.25 1473.55,332.94 1474.30,331.64 1475.05,330.36 1475.79,329.08 1476.53,327.80 1477.26,326.52 1477.98,325.22 1478.69,323.91 1479.39,322.58 1480.07,321.26 1480.75,319.94 1481.41,318.63 1482.07,317.31 1482.72,315.99 1483.37,314.67 1484.02,313.34 1484.68,312.01 1485.34,310.68 1486.01,309.34 1486.69,307.99 1487.38,306.64 1488.08,305.28 1488.79,303.91 1489.50,302.54 1490.22,301.17 1490.93,299.79 1491.65,298.41 1492.37,297.03 1493.09,295.64 1493.80,294.25 1494.51,292.86 1495.22,291.47 1495.92,290.08 1496.62,288.68 1497.32,287.28 1498.02,285.87 1498.71,284.46 1499.41,283.05 1500.10,281.64 1500.80,280.22 1501.49,278.81 1502.19,277.40 1502.89,275.99 1503.58,274.59 1504.28,273.19 1504.99,271.79 1505.70,270.40 1506.41,269.01 1507.12,267.62 1507.83,266.23 1508.53,264.84 1509.24,263.44 1509.93,262.04 1510.63,260.63 1511.31,259.22 1511.99,257.79 1512.66,256.36 1513.32,254.93 1513.97,253.50 1514.62,252.07 1515.26,250.64 1515.90,249.19 1516.53,247.74 1517.17,246.27 1517.80,244.78 1518.44,243.27 1519.07,241.74 1519.71,240.18 1520.35,238.57 1521.00,236.91 1521.65,235.22 1522.30,233.49 1522.95,231.74 1523.59,229.99 1524.24,228.24 1524.87,226.51 1525.50,224.81 1526.11,223.14 1526.72,221.53 1527.30,219.98 1527.88,218.49 1528.45,217.05 1529.00,215.65 1529.55,214.29 1530.09,212.95 1530.63,211.64 1531.15,210.34 1531.66,209.04 1532.16,207.75 1532.65,206.46 1533.14,205.15 1533.61,203.83 1534.07,202.50 1534.50,201.20 1534.93,199.92 1535.34,198.64 1535.75,197.37 1536.14,196.09 1536.53,194.79 1536.92,193.48 1537.31,192.15 1537.70,190.78 1538.09,189.37 1538.50,187.91 1538.91,186.41 1539.32,184.86 1539.74,183.27 1540.15,181.64 1540.57,179.99 1540.99,178.33 1541.40,176.65 1541.81,174.96 1542.21,173.27 1542.61,171.60 1543.00,169.93 1543.39,168.28 1543.76,166.65 1544.14,165.03 1544.50,163.42 1544.86,161.80 1545.22,160.19 1545.57,158.57 1545.92,156.95 1546.27,155.33 1546.60,153.69 1546.94,152.04 1547.27,150.38 1547.59,148.69 1547.91,147.00 1548.23,145.29 1548.54,143.57 1548.85,141.85 1549.15,140.11 1549.45,138.36 1549.75,136.61 1550.03,134.84 1550.31,133.07 1550.59,131.28 1550.85,129.49 1551.11,127.69 1551.35,125.88 1551.59,124.06 1551.83,122.23 1552.06,120.38 1552.28,118.53 1552.49,116.67 1552.70,114.81 1552.90,112.94 1553.09,111.06 1553.27,109.17 1553.45,107.29 1553.61,105.40 1553.77,103.48 1553.91,101.51 1554.05,99.51 1554.18,97.48 1554.30,95.46 1554.42,93.44 1554.52,91.44 1554.63,89.48 1554.72,87.57 1554.81,85.73 1554.90,83.96 1554.99,82.29 1555.06,80.67 1555.14,79.05 1555.20,77.46 1555.27,75.90 1555.32,74.39 1555.37,72.95 1555.42,71.59 1555.46,70.32 1555.50,69.17 1555.53,68.13 1555.56,67.24 1555.59,66.50 1388.90,66.50" fill="#cccccc"/>
</g>
<line x1="1388.90" y1="66.50" x2="1793.00" y2="66.50" stroke="#000" stroke-width="1.3"/>
<line x1="1793.00" y1="66.50" x2="1793.00" y2="470.40" stroke="#222" stroke-width="1.3"/>
<line x1="1388.90" y1="65.90" x2="1388.90" y2="471.00" stroke="#000" stroke-width="1.3"/>
<line x1="1388.30" y1="470.40" x2="1793.60" y2="470.40" stroke="#000" stroke-width="1.3"/>
<rect x="1388.90" y="66.50" width="4.3" height="4.3" fill="none" stroke="#111" stroke-width="0.9"/>
<rect x="1788.70" y="66.50" width="4.3" height="4.3" fill="none" stroke="#111" stroke-width="0.9"/>
<rect x="1388.90" y="466.10" width="4.3" height="4.3" fill="none" stroke="#111" stroke-width="0.9"/>
<rect x="1788.70" y="466.10" width="4.3" height="4.3" fill="none" stroke="#111" stroke-width="0.9"/>
<line x1="1590.95" y1="66.5" x2="1590.95" y2="70.5" stroke="#333" stroke-width="1"/>
<line x1="1590.95" y1="470.4" x2="1590.95" y2="466.4" stroke="#333" stroke-width="1"/>
<text x="1361.72" y="85.60" font-size="42">1</text>
<text x="1360.88" y="481.90" font-size="42">0</text>
<text x="1382.40" y="511.70" font-size="42">0</text>
<text x="1564.75" y="511.70" font-size="42">0.5</text>
<text x="1777.87" y="511.70" font-size="42">1</text>
<text x="1546.3" y="367.4" font-size="40" textLength="181" lengthAdjust="spacingAndGlyphs">forbidden</text>
<text x="513.0" y="559.9" font-size="41" font-style="italic" textLength="23.5" lengthAdjust="spacingAndGlyphs">h</text>
<text x="537.0" y="545.4" font-size="29" font-style="italic">l</text>
<text x="1060.0" y="543.7" font-size="41" font-style="italic">p</text>
<text x="1580.0" y="543.7" font-size="41" font-style="italic">p</text>
<text transform="translate(269.0,288.5) rotate(-90)" font-size="41" font-style="italic" textLength="23.5" lengthAdjust="spacingAndGlyphs">h</text>
<text transform="translate(255.0,267.0) rotate(-90)" font-size="29" font-style="italic" textLength="17.5" lengthAdjust="spacingAndGlyphs">g</text>
<text transform="translate(811.0,288.5) rotate(-90)" font-size="41" font-style="italic" textLength="23.5" lengthAdjust="spacingAndGlyphs">h</text>
<text transform="translate(797.0,267.0) rotate(-90)" font-size="29" font-style="italic" textLength="17.5" lengthAdjust="spacingAndGlyphs">g</text>
<text transform="translate(1353.5,279.0) rotate(-90)" font-size="41" font-style="italic">d</text>
<text transform="translate(96.6,386.7) rotate(-90)" font-size="40" textLength="203.5" lengthAdjust="spacingAndGlyphs">occurrence</text>
<text transform="translate(104.0,168.3) rotate(-90)" font-size="55" textLength="31.7" lengthAdjust="spacingAndGlyphs">#</text>
<defs><linearGradient id="cb588" x1="0" y1="0" x2="0" y2="1"><stop offset="0.000" stop-color="#000000"/><stop offset="0.050" stop-color="#100a06"/><stop offset="0.100" stop-color="#1f140d"/><stop offset="0.150" stop-color="#2f1e13"/><stop offset="0.200" stop-color="#3f2819"/><stop offset="0.250" stop-color="#4f3220"/><stop offset="0.300" stop-color="#5e3c26"/><stop offset="0.350" stop-color="#6e462c"/><stop offset="0.400" stop-color="#7e5033"/><stop offset="0.450" stop-color="#8e5a39"/><stop offset="0.500" stop-color="#9d643f"/><stop offset="0.550" stop-color="#ad6e46"/><stop offset="0.600" stop-color="#bd784c"/><stop offset="0.650" stop-color="#cd8152"/><stop offset="0.700" stop-color="#dc8b59"/><stop offset="0.750" stop-color="#ec955f"/><stop offset="0.800" stop-color="#fc9f65"/><stop offset="0.850" stop-color="#ffa96c"/><stop offset="0.900" stop-color="#ffb372"/><stop offset="0.950" stop-color="#ffbd79"/><stop offset="1.000" stop-color="#ffc77f"/></linearGradient></defs>
<rect x="177.9" y="588.3" width="17.799999999999983" height="504.5" fill="url(#cb588)"/>
<rect x="177.9" y="1092.8" width="17.799999999999983" height="4.7999999999999545" fill="#fff"/>
<rect x="177.9" y="1097.6" width="17.799999999999983" height="5.2000000000000455" fill="#cccccc"/>
<rect x="177.9" y="588.3" width="17.799999999999983" height="514.5" fill="none" stroke="#111" stroke-width="1.3"/>
<text x="106.38" y="604.50" font-size="42">100</text>
<line x1="177.9" y1="692.60" x2="183.1" y2="692.60" stroke="#150c06" stroke-width="1.1"/>
<line x1="190.5" y1="692.60" x2="195.7" y2="692.60" stroke="#150c06" stroke-width="1.1"/>
<text x="127.38" y="708.50" font-size="42">80</text>
<line x1="177.9" y1="796.90" x2="183.1" y2="796.90" stroke="#150c06" stroke-width="1.1"/>
<line x1="190.5" y1="796.90" x2="195.7" y2="796.90" stroke="#150c06" stroke-width="1.1"/>
<text x="127.38" y="812.80" font-size="42">60</text>
<line x1="177.9" y1="900.60" x2="183.1" y2="900.60" stroke="#150c06" stroke-width="1.1"/>
<line x1="190.5" y1="900.60" x2="195.7" y2="900.60" stroke="#150c06" stroke-width="1.1"/>
<text x="127.38" y="916.50" font-size="42">40</text>
<line x1="177.9" y1="1004.80" x2="183.1" y2="1004.80" stroke="#150c06" stroke-width="1.1"/>
<line x1="190.5" y1="1004.80" x2="195.7" y2="1004.80" stroke="#150c06" stroke-width="1.1"/>
<text x="127.38" y="1020.70" font-size="42">20</text>
<defs><clipPath id="clip10"><rect x="327.30" y="643.60" width="405.10" height="404.90"/></clipPath></defs>
<g clip-path="url(#clip10)">
<g shape-rendering="crispEdges">
<rect x="610.87" y="651.70" width="8.10" height="8.10" fill="#ffc37c"/>
<rect x="683.79" y="651.70" width="8.10" height="8.10" fill="#ffc37c"/>
<rect x="610.87" y="692.19" width="8.10" height="8.10" fill="#ffc37c"/>
<rect x="651.38" y="692.19" width="8.10" height="8.10" fill="#ffc37c"/>
<rect x="554.16" y="700.29" width="8.10" height="8.10" fill="#ffc37c"/>
<rect x="562.26" y="716.48" width="8.10" height="8.10" fill="#ffc37c"/>
<rect x="618.97" y="740.78" width="8.10" height="8.10" fill="#ffc37c"/>
<rect x="570.36" y="765.07" width="8.10" height="8.10" fill="#ffc37c"/>
<rect x="667.58" y="773.17" width="8.10" height="8.10" fill="#ffc37c"/>
<rect x="716.20" y="773.17" width="8.10" height="8.10" fill="#ffc37c"/>
<rect x="635.18" y="781.27" width="8.10" height="8.10" fill="#ffc37c"/>
<rect x="537.95" y="797.46" width="8.10" height="8.10" fill="#ffc37c"/>
<rect x="578.46" y="797.46" width="8.10" height="8.10" fill="#ffc37c"/>
<rect x="594.67" y="797.46" width="16.20" height="8.10" fill="#ffc37c"/>
<rect x="618.97" y="797.46" width="8.10" height="8.10" fill="#ffc37c"/>
<rect x="643.28" y="797.46" width="8.10" height="8.10" fill="#ffc37c"/>
<rect x="683.79" y="797.46" width="8.10" height="8.10" fill="#ffc37c"/>
<rect x="473.14" y="805.56" width="8.10" height="8.10" fill="#ffc37c"/>
<rect x="602.77" y="805.56" width="8.10" height="8.10" fill="#ffc37c"/>
<rect x="618.97" y="805.56" width="8.10" height="8.10" fill="#ffc37c"/>
<rect x="699.99" y="805.56" width="8.10" height="8.10" fill="#ffc37c"/>
<rect x="513.65" y="813.66" width="8.10" height="8.10" fill="#ffc37c"/>
<rect x="537.95" y="813.66" width="8.10" height="8.10" fill="#ffc37c"/>
<rect x="651.38" y="813.66" width="8.10" height="8.10" fill="#ffc37c"/>
<rect x="578.46" y="821.76" width="8.10" height="8.10" fill="#ffc37c"/>
<rect x="643.28" y="821.76" width="8.10" height="8.10" fill="#ffc37c"/>
<rect x="691.89" y="821.76" width="8.10" height="8.10" fill="#ffc37c"/>
<rect x="618.97" y="829.85" width="8.10" height="8.10" fill="#ffc37c"/>
<rect x="699.99" y="829.85" width="8.10" height="8.10" fill="#ffc37c"/>
<rect x="481.24" y="846.05" width="8.10" height="8.10" fill="#ffc37c"/>
<rect x="481.24" y="854.15" width="8.10" height="8.10" fill="#ffc37c"/>
<rect x="513.65" y="854.15" width="8.10" height="8.10" fill="#ffc37c"/>
<rect x="529.85" y="854.15" width="8.10" height="8.10" fill="#ffc37c"/>
<rect x="594.67" y="854.15" width="8.10" height="8.10" fill="#ffc37c"/>
<rect x="635.18" y="854.15" width="16.20" height="8.10" fill="#ffc37c"/>
<rect x="456.93" y="862.25" width="8.10" height="8.10" fill="#ffc37c"/>
<rect x="537.95" y="862.25" width="8.10" height="8.10" fill="#ffc37c"/>
<rect x="578.46" y="862.25" width="8.10" height="8.10" fill="#ffc37c"/>
<rect x="602.77" y="862.25" width="8.10" height="8.10" fill="#ffc37c"/>
<rect x="554.16" y="870.34" width="8.10" height="8.10" fill="#ffc37c"/>
<rect x="578.46" y="870.34" width="8.10" height="8.10" fill="#ffc37c"/>
<rect x="456.93" y="878.44" width="8.10" height="8.10" fill="#ffc37c"/>
<rect x="618.97" y="878.44" width="8.10" height="8.10" fill="#ffc37c"/>
<rect x="537.95" y="886.54" width="8.10" height="8.10" fill="#ffc37c"/>
<rect x="578.46" y="886.54" width="8.10" height="8.10" fill="#ffc37c"/>
<rect x="602.77" y="886.54" width="8.10" height="8.10" fill="#ffc37c"/>
<rect x="456.93" y="894.64" width="8.10" height="8.10" fill="#ffc37c"/>
<rect x="497.44" y="894.64" width="8.10" height="8.10" fill="#ffc37c"/>
<rect x="513.65" y="894.64" width="8.10" height="8.10" fill="#ffc37c"/>
<rect x="497.44" y="902.74" width="8.10" height="8.10" fill="#ffc37c"/>
<rect x="529.85" y="902.74" width="16.20" height="8.10" fill="#ffc37c"/>
<rect x="497.44" y="910.83" width="8.10" height="8.10" fill="#ffc37c"/>
<rect x="570.36" y="910.83" width="8.10" height="8.10" fill="#ffc37c"/>
<rect x="594.67" y="910.83" width="8.10" height="8.10" fill="#ffc37c"/>
<rect x="432.63" y="918.93" width="8.10" height="8.10" fill="#ffc37c"/>
<rect x="465.03" y="918.93" width="8.10" height="8.10" fill="#ffc37c"/>
<rect x="497.44" y="918.93" width="8.10" height="8.10" fill="#ffc37c"/>
<rect x="513.65" y="927.03" width="8.10" height="8.10" fill="#ffc37c"/>
<rect x="578.46" y="927.03" width="8.10" height="8.10" fill="#ffc37c"/>
<rect x="594.67" y="927.03" width="8.10" height="8.10" fill="#ffc37c"/>
<rect x="432.63" y="935.13" width="8.10" height="8.10" fill="#ffc37c"/>
<rect x="448.83" y="935.13" width="8.10" height="8.10" fill="#ffc37c"/>
<rect x="473.14" y="935.13" width="8.10" height="8.10" fill="#ffc37c"/>
<rect x="529.85" y="935.13" width="8.10" height="8.10" fill="#ffc37c"/>
<rect x="594.67" y="935.13" width="8.10" height="8.10" fill="#ffc37c"/>
<rect x="432.63" y="943.23" width="8.10" height="8.10" fill="#ffc37c"/>
<rect x="529.85" y="943.23" width="8.10" height="8.10" fill="#ffc37c"/>
<rect x="432.63" y="951.32" width="8.10" height="8.10" fill="#ffc37c"/>
<rect x="456.93" y="951.32" width="8.10" height="8.10" fill="#ffc37c"/>
<rect x="513.65" y="951.32" width="8.10" height="8.10" fill="#ffc37c"/>
<rect x="481.24" y="959.42" width="8.10" height="8.10" fill="#ffc37c"/>
<rect x="400.22" y="967.52" width="8.10" height="8.10" fill="#ffc37c"/>
<rect x="465.03" y="967.52" width="8.10" height="8.10" fill="#ffc37c"/>
<rect x="481.24" y="967.52" width="8.10" height="8.10" fill="#ffc37c"/>
<rect x="335.40" y="975.62" width="8.10" height="8.10" fill="#ffc37c"/>
<rect x="456.93" y="975.62" width="8.10" height="8.10" fill="#ffc37c"/>
<rect x="432.63" y="983.72" width="8.10" height="8.10" fill="#ffc37c"/>
<rect x="456.93" y="983.72" width="8.10" height="8.10" fill="#ffc37c"/>
<rect x="408.32" y="991.81" width="8.10" height="8.10" fill="#ffc37c"/>
<rect x="424.52" y="991.81" width="16.20" height="8.10" fill="#ffc37c"/>
<rect x="448.83" y="991.81" width="8.10" height="8.10" fill="#ffc37c"/>
<rect x="392.12" y="999.91" width="8.10" height="8.10" fill="#ffc37c"/>
<rect x="416.42" y="999.91" width="8.10" height="8.10" fill="#ffc37c"/>
<rect x="351.61" y="1016.11" width="8.10" height="8.10" fill="#ffc37c"/>
<rect x="359.71" y="1032.30" width="8.10" height="8.10" fill="#ffc37c"/>
</g>
</g>
<line x1="327.30" y1="822.90" x2="732.40" y2="822.90" stroke="#000" stroke-width="2" stroke-dasharray="15.7 6.4"/>
<line x1="327.30" y1="874.20" x2="732.40" y2="874.20" stroke="#000" stroke-width="2" stroke-dasharray="15.7 6.4"/>
<line x1="327.30" y1="925.60" x2="732.40" y2="925.60" stroke="#000" stroke-width="2" stroke-dasharray="15.7 6.4"/>
<line x1="557.80" y1="647.60" x2="557.80" y2="1048.50" stroke="#000" stroke-width="2" stroke-dasharray="15.7 6.4" stroke-dashoffset="9.5"/>
<line x1="327.3" y1="983.6" x2="723.6" y2="795.2" stroke="#0000ff" stroke-width="3.7" stroke-dasharray="5.8 4.5"/>
<line x1="327.30" y1="643.60" x2="732.40" y2="643.60" stroke="#000" stroke-width="1.3"/>
<line x1="732.40" y1="643.60" x2="732.40" y2="1048.50" stroke="#222" stroke-width="1.3"/>
<line x1="327.30" y1="643.00" x2="327.30" y2="1049.10" stroke="#000" stroke-width="1.3"/>
<line x1="326.70" y1="1048.50" x2="733.00" y2="1048.50" stroke="#000" stroke-width="1.3"/>
<rect x="327.30" y="643.60" width="4.3" height="4.3" fill="none" stroke="#111" stroke-width="0.9"/>
<rect x="728.10" y="643.60" width="4.3" height="4.3" fill="none" stroke="#111" stroke-width="0.9"/>
<rect x="327.30" y="1044.20" width="4.3" height="4.3" fill="none" stroke="#111" stroke-width="0.9"/>
<rect x="728.10" y="1044.20" width="4.3" height="4.3" fill="none" stroke="#111" stroke-width="0.9"/>
<text x="275.99" y="662.30" font-size="42">11</text>
<text x="296.68" y="889.00" font-size="42">0</text>
<text x="272.95" y="1057.60" font-size="42">−8</text>
<text x="296.69" y="1089.80" font-size="42">−5</text>
<text x="547.30" y="1089.80" font-size="42">0</text>
<text x="717.00" y="1089.80" font-size="42">4</text>
<defs><clipPath id="clip11"><rect x="867.50" y="643.60" width="405.10" height="404.90"/></clipPath></defs>
<g clip-path="url(#clip11)">
<g shape-rendering="crispEdges">
<rect x="1207.78" y="651.70" width="8.10" height="8.10" fill="#ffc37c"/>
<rect x="1199.68" y="692.19" width="16.20" height="8.10" fill="#ffc37c"/>
<rect x="1199.68" y="700.29" width="8.10" height="8.10" fill="#ffc37c"/>
<rect x="1207.78" y="716.48" width="8.10" height="8.10" fill="#ffc37c"/>
<rect x="1167.27" y="740.78" width="8.10" height="8.10" fill="#ffc37c"/>
<rect x="1159.17" y="765.07" width="8.10" height="8.10" fill="#ffc37c"/>
<rect x="1110.56" y="773.17" width="16.20" height="8.10" fill="#ffc37c"/>
<rect x="1102.46" y="781.27" width="8.10" height="8.10" fill="#ffc37c"/>
<rect x="1078.15" y="797.46" width="8.10" height="8.10" fill="#ffc37c"/>
<rect x="1110.56" y="797.46" width="24.31" height="8.10" fill="#ffc37c"/>
<rect x="1167.27" y="797.46" width="8.10" height="8.10" fill="#ffc37c"/>
<rect x="997.13" y="805.56" width="8.10" height="8.10" fill="#ffc37c"/>
<rect x="1045.74" y="805.56" width="8.10" height="8.10" fill="#ffc37c"/>
<rect x="1142.97" y="805.56" width="8.10" height="8.10" fill="#ffc37c"/>
<rect x="1159.17" y="805.56" width="8.10" height="8.10" fill="#ffc37c"/>
<rect x="1037.64" y="813.66" width="8.10" height="8.10" fill="#ffc37c"/>
<rect x="1126.76" y="813.66" width="8.10" height="8.10" fill="#ffc37c"/>
<rect x="1142.97" y="813.66" width="8.10" height="8.10" fill="#ffc37c"/>
<rect x="989.03" y="821.76" width="8.10" height="8.10" fill="#ffc37c"/>
<rect x="1070.05" y="821.76" width="16.20" height="8.10" fill="#ffc37c"/>
<rect x="980.93" y="829.85" width="8.10" height="8.10" fill="#ffc37c"/>
<rect x="1070.05" y="829.85" width="8.10" height="8.10" fill="#ffc37c"/>
<rect x="1142.97" y="846.05" width="8.10" height="8.10" fill="#ffc37c"/>
<rect x="956.62" y="854.15" width="8.10" height="8.10" fill="#ffc37c"/>
<rect x="972.83" y="854.15" width="8.10" height="8.10" fill="#ffc37c"/>
<rect x="1021.44" y="854.15" width="8.10" height="8.10" fill="#ffc37c"/>
<rect x="1070.05" y="854.15" width="8.10" height="8.10" fill="#ffc37c"/>
<rect x="1159.17" y="854.15" width="16.20" height="8.10" fill="#ffc37c"/>
<rect x="1191.58" y="854.15" width="8.10" height="8.10" fill="#ffc37c"/>
<rect x="972.83" y="862.25" width="8.10" height="8.10" fill="#ffc37c"/>
<rect x="1045.74" y="862.25" width="8.10" height="8.10" fill="#ffc37c"/>
<rect x="1070.05" y="862.25" width="8.10" height="8.10" fill="#ffc37c"/>
<rect x="1207.78" y="862.25" width="8.10" height="8.10" fill="#ffc37c"/>
<rect x="980.93" y="870.34" width="8.10" height="8.10" fill="#ffc37c"/>
<rect x="1061.95" y="870.34" width="8.10" height="8.10" fill="#ffc37c"/>
<rect x="1029.54" y="878.44" width="8.10" height="8.10" fill="#ffc37c"/>
<rect x="1183.48" y="878.44" width="8.10" height="8.10" fill="#ffc37c"/>
<rect x="867.50" y="886.54" width="8.10" height="8.10" fill="#ffc37c"/>
<rect x="1005.23" y="886.54" width="8.10" height="8.10" fill="#ffc37c"/>
<rect x="1110.56" y="886.54" width="8.10" height="8.10" fill="#ffc37c"/>
<rect x="1061.95" y="894.64" width="16.20" height="8.10" fill="#ffc37c"/>
<rect x="1159.17" y="894.64" width="8.10" height="8.10" fill="#ffc37c"/>
<rect x="1013.34" y="902.74" width="8.10" height="8.10" fill="#ffc37c"/>
<rect x="1061.95" y="902.74" width="8.10" height="8.10" fill="#ffc37c"/>
<rect x="1118.66" y="902.74" width="8.10" height="8.10" fill="#ffc37c"/>
<rect x="956.62" y="910.83" width="8.10" height="8.10" fill="#ffc37c"/>
<rect x="1045.74" y="910.83" width="8.10" height="8.10" fill="#ffc37c"/>
<rect x="1061.95" y="910.83" width="8.10" height="8.10" fill="#ffc37c"/>
<rect x="1086.25" y="918.93" width="8.10" height="8.10" fill="#ffc37c"/>
<rect x="1110.56" y="918.93" width="8.10" height="8.10" fill="#ffc37c"/>
<rect x="1151.07" y="918.93" width="8.10" height="8.10" fill="#ffc37c"/>
<rect x="948.52" y="927.03" width="24.31" height="8.10" fill="#ffc37c"/>
<rect x="916.11" y="935.13" width="8.10" height="8.10" fill="#ffc37c"/>
<rect x="940.42" y="935.13" width="8.10" height="8.10" fill="#ffc37c"/>
<rect x="980.93" y="935.13" width="8.10" height="8.10" fill="#ffc37c"/>
<rect x="1126.76" y="935.13" width="8.10" height="8.10" fill="#ffc37c"/>
<rect x="1151.07" y="935.13" width="8.10" height="8.10" fill="#ffc37c"/>
<rect x="867.50" y="943.23" width="8.10" height="8.10" fill="#ffc37c"/>
<rect x="924.21" y="951.32" width="8.10" height="8.10" fill="#ffc37c"/>
<rect x="940.42" y="951.32" width="8.10" height="8.10" fill="#ffc37c"/>
<rect x="1061.95" y="951.32" width="8.10" height="8.10" fill="#ffc37c"/>
<rect x="1078.15" y="959.42" width="8.10" height="8.10" fill="#ffc37c"/>
<rect x="867.50" y="967.52" width="8.10" height="8.10" fill="#ffc37c"/>
<rect x="908.01" y="967.52" width="8.10" height="8.10" fill="#ffc37c"/>
<rect x="1094.36" y="967.52" width="8.10" height="8.10" fill="#ffc37c"/>
<rect x="948.52" y="975.62" width="8.10" height="8.10" fill="#ffc37c"/>
<rect x="1110.56" y="975.62" width="8.10" height="8.10" fill="#ffc37c"/>
<rect x="867.50" y="983.72" width="8.10" height="8.10" fill="#ffc37c"/>
<rect x="989.03" y="983.72" width="8.10" height="8.10" fill="#ffc37c"/>
<rect x="867.50" y="991.81" width="8.10" height="8.10" fill="#ffc37c"/>
<rect x="940.42" y="991.81" width="8.10" height="8.10" fill="#ffc37c"/>
<rect x="997.13" y="991.81" width="8.10" height="8.10" fill="#ffc37c"/>
<rect x="1013.34" y="991.81" width="8.10" height="8.10" fill="#ffc37c"/>
<rect x="867.50" y="999.91" width="8.10" height="8.10" fill="#ffc37c"/>
<rect x="867.50" y="1016.11" width="8.10" height="8.10" fill="#ffc37c"/>
<rect x="867.50" y="1032.30" width="8.10" height="8.10" fill="#ffc37c"/>
</g>
</g>
<line x1="867.50" y1="822.90" x2="1272.60" y2="822.90" stroke="#000" stroke-width="2" stroke-dasharray="15.7 6.4"/>
<line x1="867.50" y1="874.20" x2="1272.60" y2="874.20" stroke="#000" stroke-width="2" stroke-dasharray="15.7 6.4"/>
<line x1="867.50" y1="925.60" x2="1272.60" y2="925.60" stroke="#000" stroke-width="2" stroke-dasharray="15.7 6.4"/>
<line x1="998.20" y1="647.60" x2="998.20" y2="1048.50" stroke="#000" stroke-width="2" stroke-dasharray="15.7 6.4" stroke-dashoffset="9.5"/>
<line x1="1133.00" y1="647.60" x2="1133.00" y2="1048.50" stroke="#000" stroke-width="2" stroke-dasharray="15.7 6.4" stroke-dashoffset="9.5"/>
<line x1="867.50" y1="643.60" x2="1272.60" y2="643.60" stroke="#000" stroke-width="1.3"/>
<line x1="1272.60" y1="643.60" x2="1272.60" y2="1048.50" stroke="#222" stroke-width="1.3"/>
<line x1="867.50" y1="643.00" x2="867.50" y2="1049.10" stroke="#000" stroke-width="1.3"/>
<line x1="866.90" y1="1048.50" x2="1273.20" y2="1048.50" stroke="#000" stroke-width="1.3"/>
<rect x="867.50" y="643.60" width="4.3" height="4.3" fill="none" stroke="#111" stroke-width="0.9"/>
<rect x="1268.30" y="643.60" width="4.3" height="4.3" fill="none" stroke="#111" stroke-width="0.9"/>
<rect x="867.50" y="1044.20" width="4.3" height="4.3" fill="none" stroke="#111" stroke-width="0.9"/>
<rect x="1268.30" y="1044.20" width="4.3" height="4.3" fill="none" stroke="#111" stroke-width="0.9"/>
<line x1="1070.05" y1="643.6" x2="1070.05" y2="647.6" stroke="#333" stroke-width="1"/>
<line x1="1070.05" y1="1048.5" x2="1070.05" y2="1044.5" stroke="#333" stroke-width="1"/>
<text x="817.39" y="662.80" font-size="42">11</text>
<text x="838.08" y="889.00" font-size="42">0</text>
<text x="814.35" y="1057.60" font-size="42">−8</text>
<text x="861.00" y="1089.80" font-size="42">0</text>
<text x="1043.75" y="1089.80" font-size="42">0.5</text>
<text x="1256.87" y="1089.80" font-size="42">1</text>
<defs><clipPath id="clip12"><rect x="1388.50" y="643.60" width="404.90" height="404.90"/></clipPath></defs>
<g clip-path="url(#clip12)">
<polygon points="1796.40,652.00 1786.60,652.00 1786.60,660.10 1778.50,660.10 1778.50,668.19 1770.41,668.19 1770.41,676.29 1762.31,676.29 1762.31,684.39 1754.21,684.39 1754.21,692.49 1746.11,692.49 1746.11,700.59 1738.01,700.59 1738.01,708.68 1729.92,708.68 1729.92,716.78 1721.82,716.78 1721.82,724.88 1713.72,724.88 1713.72,732.98 1705.62,732.98 1705.62,741.08 1697.52,741.08 1697.52,749.17 1689.43,749.17 1689.43,757.27 1681.33,757.27 1681.33,765.37 1673.23,765.37 1673.23,773.47 1665.13,773.47 1665.13,781.57 1657.03,781.57 1657.03,789.66 1648.94,789.66 1648.94,797.76 1640.84,797.76 1640.84,805.86 1632.74,805.86 1632.74,813.96 1624.64,813.96 1624.64,822.06 1616.54,822.06 1616.54,830.15 1608.45,830.15 1608.45,838.25 1600.35,838.25 1600.35,846.35 1592.25,846.35 1592.25,854.45 1584.15,854.45 1584.15,862.55 1576.05,862.55 1576.05,870.64 1567.96,870.64 1567.96,878.74 1559.86,878.74 1559.86,886.84 1551.76,886.84 1551.76,894.94 1543.66,894.94 1543.66,903.04 1535.56,903.04 1535.56,911.13 1527.47,911.13 1527.47,919.23 1519.37,919.23 1519.37,927.33 1511.27,927.33 1511.27,935.43 1503.17,935.43 1503.17,943.53 1495.07,943.53 1495.07,951.62 1486.98,951.62 1486.98,959.72 1478.88,959.72 1478.88,967.82 1470.78,967.82 1470.78,975.92 1462.68,975.92 1462.68,984.02 1454.58,984.02 1454.58,992.11 1446.49,992.11 1446.49,1000.21 1438.39,1000.21 1438.39,1008.31 1430.29,1008.31 1430.29,1016.41 1422.19,1016.41 1422.19,1024.51 1414.09,1024.51 1414.09,1032.60 1406.00,1032.60 1406.00,1040.70 1397.90,1040.70 1397.90,1048.80 1796.40,1051.50" fill="#cccccc"/>
<g shape-rendering="crispEdges">
<rect x="1729.92" y="700.59" width="8.10" height="8.10" fill="#ffc37c"/>
<rect x="1721.82" y="708.68" width="8.10" height="8.10" fill="#ffc37c"/>
<rect x="1713.72" y="716.78" width="8.10" height="8.10" fill="#ffc37c"/>
<rect x="1632.74" y="724.88" width="8.10" height="8.10" fill="#ffc37c"/>
<rect x="1705.62" y="724.88" width="8.10" height="8.10" fill="#ffc37c"/>
<rect x="1689.43" y="741.08" width="8.10" height="8.10" fill="#ffc37c"/>
<rect x="1681.33" y="749.17" width="8.10" height="8.10" fill="#ffc37c"/>
<rect x="1673.23" y="757.27" width="8.10" height="8.10" fill="#ffc37c"/>
<rect x="1665.13" y="765.37" width="8.10" height="8.10" fill="#ffc37c"/>
<rect x="1600.35" y="773.47" width="16.20" height="8.10" fill="#ffc37c"/>
<rect x="1648.94" y="781.57" width="8.10" height="8.10" fill="#ffc37c"/>
<rect x="1640.84" y="789.66" width="8.10" height="8.10" fill="#ffc37c"/>
<rect x="1632.74" y="797.76" width="8.10" height="8.10" fill="#ffc37c"/>
<rect x="1584.15" y="805.86" width="8.10" height="8.10" fill="#ffc37c"/>
<rect x="1624.64" y="805.86" width="8.10" height="8.10" fill="#ffc37c"/>
<rect x="1519.37" y="813.96" width="8.10" height="8.10" fill="#ffc37c"/>
<rect x="1616.54" y="813.96" width="8.10" height="8.10" fill="#ffc37c"/>
<rect x="1600.35" y="830.15" width="8.10" height="8.10" fill="#ffc37c"/>
<rect x="1559.86" y="838.25" width="8.10" height="8.10" fill="#ffc37c"/>
<rect x="1592.25" y="838.25" width="8.10" height="8.10" fill="#ffc37c"/>
<rect x="1584.15" y="846.35" width="8.10" height="8.10" fill="#ffc37c"/>
<rect x="1535.56" y="862.55" width="8.10" height="8.10" fill="#ffc37c"/>
<rect x="1567.96" y="862.55" width="8.10" height="8.10" fill="#ffc37c"/>
<rect x="1486.98" y="878.74" width="8.10" height="8.10" fill="#ffc37c"/>
<rect x="1551.76" y="878.74" width="8.10" height="8.10" fill="#ffc37c"/>
<rect x="1543.66" y="886.84" width="8.10" height="8.10" fill="#ffc37c"/>
<rect x="1511.27" y="894.94" width="16.20" height="8.10" fill="#ffc37c"/>
<rect x="1535.56" y="894.94" width="8.10" height="8.10" fill="#ffc37c"/>
<rect x="1470.78" y="903.04" width="8.10" height="8.10" fill="#ffc37c"/>
<rect x="1503.17" y="903.04" width="8.10" height="8.10" fill="#ffc37c"/>
<rect x="1527.47" y="903.04" width="8.10" height="8.10" fill="#ffc37c"/>
<rect x="1470.78" y="911.13" width="8.10" height="8.10" fill="#ffc37c"/>
<rect x="1462.68" y="919.23" width="8.10" height="8.10" fill="#ffc37c"/>
<rect x="1511.27" y="919.23" width="8.10" height="8.10" fill="#ffc37c"/>
<rect x="1462.68" y="927.33" width="8.10" height="8.10" fill="#ffc37c"/>
<rect x="1486.98" y="927.33" width="8.10" height="8.10" fill="#ffc37c"/>
<rect x="1503.17" y="927.33" width="8.10" height="8.10" fill="#ffc37c"/>
<rect x="1478.88" y="935.43" width="8.10" height="8.10" fill="#ffc37c"/>
<rect x="1495.07" y="935.43" width="8.10" height="8.10" fill="#ffc37c"/>
<rect x="1446.49" y="943.53" width="8.10" height="8.10" fill="#ffc37c"/>
<rect x="1478.88" y="943.53" width="8.10" height="8.10" fill="#ffc37c"/>
<rect x="1478.88" y="951.62" width="8.10" height="8.10" fill="#ffc37c"/>
<rect x="1430.29" y="975.92" width="8.10" height="8.10" fill="#ffc37c"/>
<rect x="1438.39" y="984.02" width="8.10" height="8.10" fill="#ffc37c"/>
<rect x="1389.80" y="1040.70" width="8.10" height="8.10" fill="#ffa76b"/>
</g>
<polygon points="1388.50,1048.50 1388.50,1048.50 1389.26,1047.25 1390.22,1045.66 1391.35,1043.79 1392.62,1041.69 1393.99,1039.41 1395.45,1037.01 1396.95,1034.53 1398.48,1032.02 1400.00,1029.54 1401.48,1027.14 1402.89,1024.88 1404.21,1022.79 1405.46,1020.84 1406.70,1018.93 1407.92,1017.07 1409.13,1015.24 1410.34,1013.44 1411.53,1011.65 1412.73,1009.89 1413.92,1008.12 1415.11,1006.36 1416.30,1004.59 1417.50,1002.81 1418.71,1001.01 1419.91,999.20 1421.12,997.40 1422.33,995.61 1423.54,993.82 1424.75,992.03 1425.95,990.24 1427.16,988.44 1428.37,986.63 1429.58,984.80 1430.79,982.95 1431.99,981.08 1433.20,979.18 1434.41,977.26 1435.62,975.33 1436.82,973.38 1438.03,971.41 1439.24,969.43 1440.45,967.43 1441.66,965.42 1442.86,963.39 1444.07,961.34 1445.28,959.28 1446.49,957.19 1447.70,955.09 1448.90,952.97 1450.11,950.83 1451.32,948.67 1452.53,946.50 1453.74,944.30 1454.94,942.09 1456.15,939.87 1457.36,937.62 1458.57,935.36 1459.78,933.09 1460.98,930.80 1462.19,928.49 1463.40,926.16 1464.61,923.82 1465.82,921.47 1467.02,919.09 1468.23,916.70 1469.44,914.30 1470.65,911.88 1471.86,909.43 1473.06,906.98 1474.27,904.50 1475.48,902.01 1476.69,899.50 1477.90,896.95 1479.10,894.36 1480.31,891.74 1481.52,889.09 1482.72,886.42 1483.93,883.75 1485.14,881.07 1486.35,878.40 1487.56,875.75 1488.76,873.13 1489.97,870.54 1491.18,868.00 1492.40,865.49 1493.62,863.02 1494.84,860.57 1496.07,858.15 1497.30,855.74 1498.53,853.34 1499.75,850.96 1500.96,848.58 1502.17,846.19 1503.37,843.81 1504.55,841.41 1505.72,839.00 1506.88,836.59 1508.03,834.17 1509.18,831.76 1510.33,829.34 1511.46,826.93 1512.59,824.51 1513.70,822.10 1514.80,819.68 1515.88,817.26 1516.94,814.85 1517.98,812.43 1519.00,810.01 1519.99,807.60 1520.97,805.18 1521.92,802.76 1522.85,800.34 1523.77,797.92 1524.68,795.50 1525.57,793.08 1526.44,790.66 1527.32,788.24 1528.18,785.82 1529.04,783.40 1529.89,780.98 1530.74,778.55 1531.59,776.09 1532.43,773.62 1533.27,771.13 1534.10,768.65 1534.91,766.18 1535.72,763.72 1536.50,761.29 1537.28,758.89 1538.03,756.54 1538.77,754.24 1539.49,751.99 1540.19,749.84 1540.87,747.78 1541.54,745.80 1542.19,743.87 1542.83,741.98 1543.45,740.10 1544.06,738.22 1544.65,736.30 1545.22,734.33 1545.77,732.29 1546.30,730.15 1546.82,727.90 1547.31,725.53 1547.78,723.08 1548.23,720.54 1548.67,717.94 1549.08,715.29 1549.48,712.60 1549.86,709.89 1550.23,707.16 1550.59,704.44 1550.93,701.73 1551.27,699.04 1551.59,696.40 1551.91,693.75 1552.22,691.05 1552.52,688.32 1552.80,685.57 1553.08,682.83 1553.34,680.10 1553.58,677.41 1553.81,674.77 1554.01,672.20 1554.20,669.71 1554.37,667.32 1554.51,665.06 1554.62,662.86 1554.70,660.66 1554.76,658.50 1554.78,656.38 1554.80,654.33 1554.79,652.37 1554.78,650.52 1554.76,648.80 1554.74,647.22 1554.72,645.82 1554.71,644.61 1554.71,643.60 1388.50,643.60" fill="#cccccc"/>
</g>
<line x1="1388.50" y1="643.60" x2="1793.40" y2="643.60" stroke="#000" stroke-width="1.3"/>
<line x1="1793.40" y1="643.60" x2="1793.40" y2="1048.50" stroke="#222" stroke-width="1.3"/>
<line x1="1388.50" y1="643.00" x2="1388.50" y2="1049.10" stroke="#000" stroke-width="1.3"/>
<line x1="1387.90" y1="1048.50" x2="1794.00" y2="1048.50" stroke="#000" stroke-width="1.3"/>
<rect x="1388.50" y="643.60" width="4.3" height="4.3" fill="none" stroke="#111" stroke-width="0.9"/>
<rect x="1789.10" y="643.60" width="4.3" height="4.3" fill="none" stroke="#111" stroke-width="0.9"/>
<rect x="1388.50" y="1044.20" width="4.3" height="4.3" fill="none" stroke="#111" stroke-width="0.9"/>
<rect x="1789.10" y="1044.20" width="4.3" height="4.3" fill="none" stroke="#111" stroke-width="0.9"/>
<line x1="1590.95" y1="643.6" x2="1590.95" y2="647.6" stroke="#333" stroke-width="1"/>
<line x1="1590.95" y1="1048.5" x2="1590.95" y2="1044.5" stroke="#333" stroke-width="1"/>
<text x="1361.12" y="662.60" font-size="42">1</text>
<text x="1360.28" y="1058.80" font-size="42">0</text>
<text x="1381.60" y="1089.80" font-size="42">0</text>
<text x="1564.75" y="1089.80" font-size="42">0.5</text>
<text x="1778.17" y="1089.80" font-size="42">1</text>
<text x="513.0" y="1137.0" font-size="41" font-style="italic" textLength="23.5" lengthAdjust="spacingAndGlyphs">h</text>
<text x="537.0" y="1122.5" font-size="29" font-style="italic">l</text>
<text x="1060.0" y="1120.8" font-size="41" font-style="italic">p</text>
<text x="1580.0" y="1120.8" font-size="41" font-style="italic">p</text>
<text transform="translate(269.0,865.6) rotate(-90)" font-size="41" font-style="italic" textLength="23.5" lengthAdjust="spacingAndGlyphs">h</text>
<text transform="translate(255.0,844.1) rotate(-90)" font-size="29" font-style="italic" textLength="17.5" lengthAdjust="spacingAndGlyphs">g</text>
<text transform="translate(811.0,865.6) rotate(-90)" font-size="41" font-style="italic" textLength="23.5" lengthAdjust="spacingAndGlyphs">h</text>
<text transform="translate(797.0,844.1) rotate(-90)" font-size="29" font-style="italic" textLength="17.5" lengthAdjust="spacingAndGlyphs">g</text>
<text transform="translate(1353.5,856.1) rotate(-90)" font-size="41" font-style="italic">d</text>
<text transform="translate(93.3,964.6) rotate(-90)" font-size="40" textLength="203.5" lengthAdjust="spacingAndGlyphs">occurrence</text>
<text transform="translate(100.7,746.2) rotate(-90)" font-size="55" textLength="31.7" lengthAdjust="spacingAndGlyphs">#</text>
<defs><linearGradient id="cb1166" x1="0" y1="0" x2="0" y2="1"><stop offset="0.000" stop-color="#000000"/><stop offset="0.050" stop-color="#100a06"/><stop offset="0.100" stop-color="#1f140d"/><stop offset="0.150" stop-color="#2f1e13"/><stop offset="0.200" stop-color="#3f2819"/><stop offset="0.250" stop-color="#4f3220"/><stop offset="0.300" stop-color="#5e3c26"/><stop offset="0.350" stop-color="#6e462c"/><stop offset="0.400" stop-color="#7e5033"/><stop offset="0.450" stop-color="#8e5a39"/><stop offset="0.500" stop-color="#9d643f"/><stop offset="0.550" stop-color="#ad6e46"/><stop offset="0.600" stop-color="#bd784c"/><stop offset="0.650" stop-color="#cd8152"/><stop offset="0.700" stop-color="#dc8b59"/><stop offset="0.750" stop-color="#ec955f"/><stop offset="0.800" stop-color="#fc9f65"/><stop offset="0.850" stop-color="#ffa96c"/><stop offset="0.900" stop-color="#ffb372"/><stop offset="0.950" stop-color="#ffbd79"/><stop offset="1.000" stop-color="#ffc77f"/></linearGradient></defs>
<rect x="177.9" y="1166.6" width="17.799999999999983" height="504.60000000000014" fill="url(#cb1166)"/>
<rect x="177.9" y="1671.2" width="17.799999999999983" height="4.7999999999999545" fill="#fff"/>
<rect x="177.9" y="1676.0" width="17.799999999999983" height="5.2000000000000455" fill="#cccccc"/>
<rect x="177.9" y="1166.6" width="17.799999999999983" height="514.6000000000001" fill="none" stroke="#111" stroke-width="1.3"/>
<text x="106.38" y="1182.80" font-size="42">100</text>
<line x1="177.9" y1="1270.50" x2="183.1" y2="1270.50" stroke="#150c06" stroke-width="1.1"/>
<line x1="190.5" y1="1270.50" x2="195.7" y2="1270.50" stroke="#150c06" stroke-width="1.1"/>
<text x="127.38" y="1286.40" font-size="42">80</text>
<line x1="177.9" y1="1374.50" x2="183.1" y2="1374.50" stroke="#150c06" stroke-width="1.1"/>
<line x1="190.5" y1="1374.50" x2="195.7" y2="1374.50" stroke="#150c06" stroke-width="1.1"/>
<text x="127.38" y="1390.40" font-size="42">60</text>
<line x1="177.9" y1="1478.80" x2="183.1" y2="1478.80" stroke="#150c06" stroke-width="1.1"/>
<line x1="190.5" y1="1478.80" x2="195.7" y2="1478.80" stroke="#150c06" stroke-width="1.1"/>
<text x="127.38" y="1494.70" font-size="42">40</text>
<line x1="177.9" y1="1582.60" x2="183.1" y2="1582.60" stroke="#150c06" stroke-width="1.1"/>
<line x1="190.5" y1="1582.60" x2="195.7" y2="1582.60" stroke="#150c06" stroke-width="1.1"/>
<text x="127.38" y="1598.50" font-size="42">20</text>
<defs><clipPath id="clip20"><rect x="327.30" y="1221.50" width="405.10" height="404.90"/></clipPath></defs>
<g clip-path="url(#clip20)">
<g shape-rendering="crispEdges">
<rect x="716.20" y="1237.70" width="8.10" height="8.10" fill="#ffc37c"/>
<rect x="594.67" y="1261.99" width="8.10" height="8.10" fill="#ffc37c"/>
<rect x="659.48" y="1261.99" width="8.10" height="8.10" fill="#ffc37c"/>
<rect x="610.87" y="1278.19" width="16.20" height="8.10" fill="#ffc37c"/>
<rect x="667.58" y="1278.19" width="8.10" height="8.10" fill="#ffc37c"/>
<rect x="562.26" y="1286.28" width="8.10" height="8.10" fill="#ffc37c"/>
<rect x="529.85" y="1294.38" width="8.10" height="8.10" fill="#ffc37c"/>
<rect x="554.16" y="1294.38" width="8.10" height="8.10" fill="#ffc37c"/>
<rect x="586.56" y="1294.38" width="8.10" height="8.10" fill="#ffc37c"/>
<rect x="618.97" y="1294.38" width="8.10" height="8.10" fill="#ffc37c"/>
<rect x="554.16" y="1318.68" width="8.10" height="8.10" fill="#ffc37c"/>
<rect x="643.28" y="1318.68" width="8.10" height="8.10" fill="#ffc37c"/>
<rect x="659.48" y="1318.68" width="8.10" height="8.10" fill="#ffc37c"/>
<rect x="497.44" y="1326.77" width="8.10" height="8.10" fill="#ffc37c"/>
<rect x="546.05" y="1326.77" width="8.10" height="8.10" fill="#ffc37c"/>
<rect x="586.56" y="1326.77" width="8.10" height="8.10" fill="#ffc37c"/>
<rect x="627.07" y="1326.77" width="24.31" height="8.10" fill="#ffc37c"/>
<rect x="505.54" y="1334.87" width="8.10" height="8.10" fill="#ffc37c"/>
<rect x="562.26" y="1334.87" width="8.10" height="8.10" fill="#ffc37c"/>
<rect x="594.67" y="1334.87" width="8.10" height="8.10" fill="#ffc37c"/>
<rect x="586.56" y="1342.97" width="16.20" height="8.10" fill="#ffc37c"/>
<rect x="610.87" y="1342.97" width="8.10" height="8.10" fill="#ffc37c"/>
<rect x="465.03" y="1351.07" width="8.10" height="8.10" fill="#ffc37c"/>
<rect x="497.44" y="1351.07" width="16.20" height="8.10" fill="#ffc37c"/>
<rect x="570.36" y="1351.07" width="8.10" height="8.10" fill="#ffc37c"/>
<rect x="594.67" y="1351.07" width="24.31" height="8.10" fill="#ffc37c"/>
<rect x="448.83" y="1359.17" width="8.10" height="8.10" fill="#ffc37c"/>
<rect x="505.54" y="1359.17" width="8.10" height="8.10" fill="#ffc37c"/>
<rect x="537.95" y="1359.17" width="8.10" height="8.10" fill="#ffc37c"/>
<rect x="586.56" y="1359.17" width="48.61" height="8.10" fill="#ffc37c"/>
<rect x="513.65" y="1367.26" width="8.10" height="8.10" fill="#ffc37c"/>
<rect x="537.95" y="1367.26" width="8.10" height="8.10" fill="#ffc37c"/>
<rect x="586.56" y="1367.26" width="8.10" height="8.10" fill="#ffc37c"/>
<rect x="602.77" y="1367.26" width="8.10" height="8.10" fill="#ffc37c"/>
<rect x="505.54" y="1375.36" width="8.10" height="8.10" fill="#ffc37c"/>
<rect x="529.85" y="1375.36" width="8.10" height="8.10" fill="#ffc37c"/>
<rect x="554.16" y="1375.36" width="8.10" height="8.10" fill="#ffc37c"/>
<rect x="586.56" y="1375.36" width="8.10" height="8.10" fill="#ffc37c"/>
<rect x="465.03" y="1383.46" width="8.10" height="8.10" fill="#ffc37c"/>
<rect x="481.24" y="1383.46" width="8.10" height="8.10" fill="#ffc37c"/>
<rect x="497.44" y="1383.46" width="8.10" height="8.10" fill="#ffc37c"/>
<rect x="529.85" y="1383.46" width="8.10" height="8.10" fill="#ffc37c"/>
<rect x="546.05" y="1383.46" width="24.31" height="8.10" fill="#ffc37c"/>
<rect x="578.46" y="1383.46" width="16.20" height="8.10" fill="#ffc37c"/>
<rect x="618.97" y="1383.46" width="24.31" height="8.10" fill="#ffc37c"/>
<rect x="505.54" y="1391.56" width="16.20" height="8.10" fill="#ffc37c"/>
<rect x="529.85" y="1391.56" width="8.10" height="8.10" fill="#ffc37c"/>
<rect x="546.05" y="1391.56" width="32.41" height="8.10" fill="#ffc37c"/>
<rect x="594.67" y="1391.56" width="8.10" height="8.10" fill="#ffc37c"/>
<rect x="481.24" y="1399.66" width="24.31" height="8.10" fill="#ffc37c"/>
<rect x="513.65" y="1399.66" width="24.31" height="8.10" fill="#ffc37c"/>
<rect x="546.05" y="1399.66" width="16.20" height="8.10" fill="#ffc37c"/>
<rect x="570.36" y="1399.66" width="16.20" height="8.10" fill="#ffc37c"/>
<rect x="602.77" y="1399.66" width="16.20" height="8.10" fill="#ffc37c"/>
<rect x="473.14" y="1407.75" width="8.10" height="8.10" fill="#ffc37c"/>
<rect x="489.34" y="1407.75" width="40.51" height="8.10" fill="#ffc37c"/>
<rect x="546.05" y="1407.75" width="32.41" height="8.10" fill="#ffc37c"/>
<rect x="602.77" y="1407.75" width="8.10" height="8.10" fill="#ffc37c"/>
<rect x="440.73" y="1415.85" width="32.41" height="8.10" fill="#ffc37c"/>
<rect x="481.24" y="1415.85" width="16.20" height="8.10" fill="#ffc37c"/>
<rect x="505.54" y="1415.85" width="16.20" height="8.10" fill="#ffc37c"/>
<rect x="529.85" y="1415.85" width="40.51" height="8.10" fill="#ffc37c"/>
<rect x="448.83" y="1423.95" width="8.10" height="8.10" fill="#ffc37c"/>
<rect x="465.03" y="1423.95" width="8.10" height="8.10" fill="#ffc37c"/>
<rect x="481.24" y="1423.95" width="32.41" height="8.10" fill="#ffc37c"/>
<rect x="521.75" y="1423.95" width="56.71" height="8.10" fill="#ffc37c"/>
<rect x="610.87" y="1423.95" width="8.10" height="8.10" fill="#ffc37c"/>
<rect x="408.32" y="1432.05" width="8.10" height="8.10" fill="#ffc37c"/>
<rect x="465.03" y="1432.05" width="8.10" height="8.10" fill="#ffc37c"/>
<rect x="481.24" y="1432.05" width="24.31" height="8.10" fill="#ffc37c"/>
<rect x="513.65" y="1432.05" width="40.51" height="8.10" fill="#ffc37c"/>
<rect x="562.26" y="1432.05" width="8.10" height="8.10" fill="#ffc37c"/>
<rect x="432.63" y="1440.15" width="40.51" height="8.10" fill="#ffc37c"/>
<rect x="481.24" y="1440.15" width="72.92" height="8.10" fill="#ffc37c"/>
<rect x="570.36" y="1440.15" width="8.10" height="8.10" fill="#ffc37c"/>
<rect x="456.93" y="1448.24" width="16.20" height="8.10" fill="#ffc37c"/>
<rect x="481.24" y="1448.24" width="48.61" height="8.10" fill="#ffc37c"/>
<rect x="546.05" y="1448.24" width="8.10" height="8.10" fill="#ffc37c"/>
<rect x="562.26" y="1448.24" width="8.10" height="8.10" fill="#ffc37c"/>
<rect x="578.46" y="1448.24" width="8.10" height="8.10" fill="#ffc37c"/>
<rect x="400.22" y="1456.34" width="8.10" height="8.10" fill="#ffc37c"/>
<rect x="424.52" y="1456.34" width="8.10" height="8.10" fill="#ffc37c"/>
<rect x="440.73" y="1456.34" width="24.31" height="8.10" fill="#ffc37c"/>
<rect x="473.14" y="1456.34" width="8.10" height="8.10" fill="#ffc37c"/>
<rect x="489.34" y="1456.34" width="81.02" height="8.10" fill="#ffc37c"/>
<rect x="400.22" y="1464.44" width="8.10" height="8.10" fill="#ffc37c"/>
<rect x="416.42" y="1464.44" width="8.10" height="8.10" fill="#ffc37c"/>
<rect x="440.73" y="1464.44" width="8.10" height="8.10" fill="#ffc37c"/>
<rect x="456.93" y="1464.44" width="56.71" height="8.10" fill="#ffc37c"/>
<rect x="513.65" y="1464.44" width="8.10" height="8.10" fill="#ffbb77"/>
<rect x="521.75" y="1464.44" width="24.31" height="8.10" fill="#ffc37c"/>
<rect x="562.26" y="1464.44" width="8.10" height="8.10" fill="#ffc37c"/>
<rect x="416.42" y="1472.54" width="48.61" height="8.10" fill="#ffc37c"/>
<rect x="473.14" y="1472.54" width="24.31" height="8.10" fill="#ffc37c"/>
<rect x="497.44" y="1472.54" width="8.10" height="8.10" fill="#ffbb77"/>
<rect x="505.54" y="1472.54" width="32.41" height="8.10" fill="#ffc37c"/>
<rect x="424.52" y="1480.64" width="8.10" height="8.10" fill="#ffc37c"/>
<rect x="440.73" y="1480.64" width="105.33" height="8.10" fill="#ffc37c"/>
<rect x="400.22" y="1488.73" width="8.10" height="8.10" fill="#ffc37c"/>
<rect x="416.42" y="1488.73" width="16.20" height="8.10" fill="#ffc37c"/>
<rect x="432.63" y="1488.73" width="8.10" height="8.10" fill="#ffbb77"/>
<rect x="440.73" y="1488.73" width="8.10" height="8.10" fill="#ffc37c"/>
<rect x="448.83" y="1488.73" width="8.10" height="8.10" fill="#ffbb77"/>
<rect x="456.93" y="1488.73" width="8.10" height="8.10" fill="#ffc37c"/>
<rect x="465.03" y="1488.73" width="8.10" height="8.10" fill="#ffbb77"/>
<rect x="473.14" y="1488.73" width="16.20" height="8.10" fill="#ffc37c"/>
<rect x="497.44" y="1488.73" width="24.31" height="8.10" fill="#ffc37c"/>
<rect x="400.22" y="1496.83" width="8.10" height="8.10" fill="#ffc37c"/>
<rect x="416.42" y="1496.83" width="16.20" height="8.10" fill="#ffc37c"/>
<rect x="432.63" y="1496.83" width="8.10" height="8.10" fill="#ffbb77"/>
<rect x="440.73" y="1496.83" width="24.31" height="8.10" fill="#ffc37c"/>
<rect x="465.03" y="1496.83" width="8.10" height="8.10" fill="#ffbb77"/>
<rect x="473.14" y="1496.83" width="16.20" height="8.10" fill="#ffc37c"/>
<rect x="489.34" y="1496.83" width="8.10" height="8.10" fill="#ffbb77"/>
<rect x="497.44" y="1496.83" width="16.20" height="8.10" fill="#ffc37c"/>
<rect x="375.91" y="1504.93" width="8.10" height="8.10" fill="#ffc37c"/>
<rect x="400.22" y="1504.93" width="8.10" height="8.10" fill="#ffc37c"/>
<rect x="416.42" y="1504.93" width="40.51" height="8.10" fill="#ffc37c"/>
<rect x="456.93" y="1504.93" width="8.10" height="8.10" fill="#ffbb77"/>
<rect x="465.03" y="1504.93" width="48.61" height="8.10" fill="#ffc37c"/>
<rect x="392.12" y="1513.03" width="24.31" height="8.10" fill="#ffc37c"/>
<rect x="424.52" y="1513.03" width="40.51" height="8.10" fill="#ffc37c"/>
<rect x="465.03" y="1513.03" width="8.10" height="8.10" fill="#ffbb77"/>
<rect x="473.14" y="1513.03" width="24.31" height="8.10" fill="#ffc37c"/>
<rect x="424.52" y="1521.13" width="8.10" height="8.10" fill="#ffc37c"/>
<rect x="440.73" y="1521.13" width="40.51" height="8.10" fill="#ffc37c"/>
<rect x="375.91" y="1529.22" width="8.10" height="8.10" fill="#ffc37c"/>
<rect x="392.12" y="1529.22" width="40.51" height="8.10" fill="#ffc37c"/>
<rect x="432.63" y="1529.22" width="8.10" height="8.10" fill="#ffbb77"/>
<rect x="440.73" y="1529.22" width="40.51" height="8.10" fill="#ffc37c"/>
<rect x="384.01" y="1537.32" width="89.12" height="8.10" fill="#ffc37c"/>
<rect x="375.91" y="1545.42" width="32.41" height="8.10" fill="#ffc37c"/>
<rect x="408.32" y="1545.42" width="8.10" height="8.10" fill="#ffbb77"/>
<rect x="416.42" y="1545.42" width="40.51" height="8.10" fill="#ffc37c"/>
<rect x="367.81" y="1553.52" width="81.02" height="8.10" fill="#ffc37c"/>
<rect x="351.61" y="1561.62" width="81.02" height="8.10" fill="#ffc37c"/>
<rect x="351.61" y="1569.71" width="40.51" height="8.10" fill="#ffc37c"/>
<rect x="392.12" y="1569.71" width="8.10" height="8.10" fill="#ffbb77"/>
<rect x="400.22" y="1569.71" width="24.31" height="8.10" fill="#ffc37c"/>
<rect x="343.50" y="1577.81" width="16.20" height="8.10" fill="#ffc37c"/>
<rect x="367.81" y="1577.81" width="40.51" height="8.10" fill="#ffc37c"/>
<rect x="343.50" y="1585.91" width="48.61" height="8.10" fill="#ffc37c"/>
<rect x="343.50" y="1594.01" width="16.20" height="8.10" fill="#ffc37c"/>
<rect x="335.40" y="1602.11" width="24.31" height="8.10" fill="#ffc37c"/>
<rect x="367.81" y="1602.11" width="8.10" height="8.10" fill="#ffc37c"/>
</g>
</g>
<line x1="327.30" y1="1430.20" x2="732.40" y2="1430.20" stroke="#000" stroke-width="2" stroke-dasharray="15.7 6.4"/>
<line x1="327.30" y1="1484.50" x2="732.40" y2="1484.50" stroke="#000" stroke-width="2" stroke-dasharray="15.7 6.4"/>
<line x1="327.30" y1="1538.30" x2="732.40" y2="1538.30" stroke="#000" stroke-width="2" stroke-dasharray="15.7 6.4"/>
<line x1="476.80" y1="1225.50" x2="476.80" y2="1626.40" stroke="#000" stroke-width="2" stroke-dasharray="15.7 6.4" stroke-dashoffset="9.5"/>
<line x1="328.6" y1="1625.2" x2="726.1" y2="1259.5" stroke="#0000ff" stroke-width="3.7" stroke-dasharray="5.8 4.5"/>
<line x1="327.30" y1="1221.50" x2="732.40" y2="1221.50" stroke="#000" stroke-width="1.3"/>
<line x1="732.40" y1="1221.50" x2="732.40" y2="1626.40" stroke="#222" stroke-width="1.3"/>
<line x1="327.30" y1="1220.90" x2="327.30" y2="1627.00" stroke="#000" stroke-width="1.3"/>
<line x1="326.70" y1="1626.40" x2="733.00" y2="1626.40" stroke="#000" stroke-width="1.3"/>
<rect x="327.30" y="1221.50" width="4.3" height="4.3" fill="none" stroke="#111" stroke-width="0.9"/>
<rect x="728.10" y="1221.50" width="4.3" height="4.3" fill="none" stroke="#111" stroke-width="0.9"/>
<rect x="327.30" y="1622.10" width="4.3" height="4.3" fill="none" stroke="#111" stroke-width="0.9"/>
<rect x="728.10" y="1622.10" width="4.3" height="4.3" fill="none" stroke="#111" stroke-width="0.9"/>
<text x="278.01" y="1240.50" font-size="42">12</text>
<text x="298.38" y="1499.20" font-size="42">0</text>
<text x="274.23" y="1635.60" font-size="42">−6</text>
<text x="296.80" y="1667.70" font-size="42">−6</text>
<text x="466.30" y="1667.70" font-size="42">0</text>
<text x="707.11" y="1667.70" font-size="42">11</text>
<defs><clipPath id="clip21"><rect x="867.50" y="1221.50" width="405.10" height="404.90"/></clipPath></defs>
<g clip-path="url(#clip21)">
<g shape-rendering="crispEdges">
<rect x="956.62" y="1237.70" width="8.10" height="8.10" fill="#ffc37c"/>
<rect x="972.83" y="1261.99" width="8.10" height="8.10" fill="#ffc37c"/>
<rect x="1021.44" y="1261.99" width="8.10" height="8.10" fill="#ffc37c"/>
<rect x="964.72" y="1278.19" width="8.10" height="8.10" fill="#ffc37c"/>
<rect x="989.03" y="1278.19" width="8.10" height="8.10" fill="#ffc37c"/>
<rect x="1013.34" y="1278.19" width="8.10" height="8.10" fill="#ffc37c"/>
<rect x="1005.23" y="1286.28" width="8.10" height="8.10" fill="#ffc37c"/>
<rect x="956.62" y="1294.38" width="8.10" height="8.10" fill="#ffc37c"/>
<rect x="972.83" y="1294.38" width="8.10" height="8.10" fill="#ffc37c"/>
<rect x="1045.74" y="1294.38" width="24.31" height="8.10" fill="#ffc37c"/>
<rect x="891.81" y="1318.68" width="8.10" height="8.10" fill="#ffc37c"/>
<rect x="948.52" y="1318.68" width="8.10" height="8.10" fill="#ffc37c"/>
<rect x="1005.23" y="1318.68" width="8.10" height="8.10" fill="#ffc37c"/>
<rect x="924.21" y="1326.77" width="8.10" height="8.10" fill="#ffc37c"/>
<rect x="948.52" y="1326.77" width="8.10" height="8.10" fill="#ffc37c"/>
<rect x="980.93" y="1326.77" width="8.10" height="8.10" fill="#ffc37c"/>
<rect x="1021.44" y="1326.77" width="16.20" height="8.10" fill="#ffc37c"/>
<rect x="980.93" y="1334.87" width="16.20" height="8.10" fill="#ffc37c"/>
<rect x="1013.34" y="1334.87" width="8.10" height="8.10" fill="#ffc37c"/>
<rect x="932.32" y="1342.97" width="16.20" height="8.10" fill="#ffc37c"/>
<rect x="964.72" y="1342.97" width="8.10" height="8.10" fill="#ffc37c"/>
<rect x="924.21" y="1351.07" width="8.10" height="8.10" fill="#ffc37c"/>
<rect x="964.72" y="1351.07" width="16.20" height="8.10" fill="#ffc37c"/>
<rect x="1021.44" y="1351.07" width="8.10" height="8.10" fill="#ffc37c"/>
<rect x="1053.85" y="1351.07" width="8.10" height="8.10" fill="#ffc37c"/>
<rect x="891.81" y="1359.17" width="32.41" height="8.10" fill="#ffc37c"/>
<rect x="932.32" y="1359.17" width="8.10" height="8.10" fill="#ffc37c"/>
<rect x="956.62" y="1359.17" width="8.10" height="8.10" fill="#ffc37c"/>
<rect x="1021.44" y="1359.17" width="8.10" height="8.10" fill="#ffc37c"/>
<rect x="1053.85" y="1359.17" width="8.10" height="8.10" fill="#ffc37c"/>
<rect x="1078.15" y="1359.17" width="8.10" height="8.10" fill="#ffc37c"/>
<rect x="875.60" y="1367.26" width="8.10" height="8.10" fill="#ffc37c"/>
<rect x="916.11" y="1367.26" width="8.10" height="8.10" fill="#ffc37c"/>
<rect x="997.13" y="1367.26" width="8.10" height="8.10" fill="#ffc37c"/>
<rect x="1021.44" y="1367.26" width="8.10" height="8.10" fill="#ffc37c"/>
<rect x="891.81" y="1375.36" width="8.10" height="8.10" fill="#ffc37c"/>
<rect x="916.11" y="1375.36" width="8.10" height="8.10" fill="#ffc37c"/>
<rect x="964.72" y="1375.36" width="8.10" height="8.10" fill="#ffc37c"/>
<rect x="989.03" y="1375.36" width="16.20" height="8.10" fill="#ffc37c"/>
<rect x="867.50" y="1383.46" width="16.20" height="8.10" fill="#ffc37c"/>
<rect x="899.91" y="1383.46" width="8.10" height="8.10" fill="#ffc37c"/>
<rect x="916.11" y="1383.46" width="16.20" height="8.10" fill="#ffc37c"/>
<rect x="948.52" y="1383.46" width="8.10" height="8.10" fill="#ffc37c"/>
<rect x="980.93" y="1383.46" width="8.10" height="8.10" fill="#ffc37c"/>
<rect x="1005.23" y="1383.46" width="8.10" height="8.10" fill="#ffc37c"/>
<rect x="1021.44" y="1383.46" width="8.10" height="8.10" fill="#ffc37c"/>
<rect x="1037.64" y="1383.46" width="8.10" height="8.10" fill="#ffc37c"/>
<rect x="1078.15" y="1383.46" width="16.20" height="8.10" fill="#ffc37c"/>
<rect x="891.81" y="1391.56" width="8.10" height="8.10" fill="#ffc37c"/>
<rect x="916.11" y="1391.56" width="16.20" height="8.10" fill="#ffc37c"/>
<rect x="948.52" y="1391.56" width="16.20" height="8.10" fill="#ffc37c"/>
<rect x="972.83" y="1391.56" width="24.31" height="8.10" fill="#ffc37c"/>
<rect x="867.50" y="1399.66" width="16.20" height="8.10" fill="#ffc37c"/>
<rect x="891.81" y="1399.66" width="8.10" height="8.10" fill="#ffc37c"/>
<rect x="908.01" y="1399.66" width="8.10" height="8.10" fill="#ffc37c"/>
<rect x="932.32" y="1399.66" width="8.10" height="8.10" fill="#ffc37c"/>
<rect x="964.72" y="1399.66" width="16.20" height="8.10" fill="#ffc37c"/>
<rect x="1013.34" y="1399.66" width="16.20" height="8.10" fill="#ffc37c"/>
<rect x="1070.05" y="1399.66" width="8.10" height="8.10" fill="#ffc37c"/>
<rect x="875.60" y="1407.75" width="8.10" height="8.10" fill="#ffc37c"/>
<rect x="891.81" y="1407.75" width="8.10" height="8.10" fill="#ffc37c"/>
<rect x="916.11" y="1407.75" width="8.10" height="8.10" fill="#ffc37c"/>
<rect x="932.32" y="1407.75" width="8.10" height="8.10" fill="#ffc37c"/>
<rect x="956.62" y="1407.75" width="32.41" height="8.10" fill="#ffc37c"/>
<rect x="997.13" y="1407.75" width="8.10" height="8.10" fill="#ffc37c"/>
<rect x="1013.34" y="1407.75" width="16.20" height="8.10" fill="#ffc37c"/>
<rect x="1086.25" y="1407.75" width="8.10" height="8.10" fill="#ffc37c"/>
<rect x="875.60" y="1415.85" width="24.31" height="8.10" fill="#ffc37c"/>
<rect x="908.01" y="1415.85" width="8.10" height="8.10" fill="#ffc37c"/>
<rect x="932.32" y="1415.85" width="16.20" height="8.10" fill="#ffc37c"/>
<rect x="956.62" y="1415.85" width="8.10" height="8.10" fill="#ffc37c"/>
<rect x="980.93" y="1415.85" width="16.20" height="8.10" fill="#ffc37c"/>
<rect x="1005.23" y="1415.85" width="24.31" height="8.10" fill="#ffc37c"/>
<rect x="1037.64" y="1415.85" width="16.20" height="8.10" fill="#ffc37c"/>
<rect x="875.60" y="1423.95" width="8.10" height="8.10" fill="#ffc37c"/>
<rect x="891.81" y="1423.95" width="24.31" height="8.10" fill="#ffc37c"/>
<rect x="924.21" y="1423.95" width="16.20" height="8.10" fill="#ffc37c"/>
<rect x="948.52" y="1423.95" width="16.20" height="8.10" fill="#ffc37c"/>
<rect x="972.83" y="1423.95" width="16.20" height="8.10" fill="#ffc37c"/>
<rect x="997.13" y="1423.95" width="16.20" height="8.10" fill="#ffc37c"/>
<rect x="1021.44" y="1423.95" width="16.20" height="8.10" fill="#ffc37c"/>
<rect x="1053.85" y="1423.95" width="8.10" height="8.10" fill="#ffc37c"/>
<rect x="875.60" y="1432.05" width="32.41" height="8.10" fill="#ffc37c"/>
<rect x="916.11" y="1432.05" width="16.20" height="8.10" fill="#ffc37c"/>
<rect x="940.42" y="1432.05" width="24.31" height="8.10" fill="#ffc37c"/>
<rect x="997.13" y="1432.05" width="24.31" height="8.10" fill="#ffc37c"/>
<rect x="1078.15" y="1432.05" width="8.10" height="8.10" fill="#ffc37c"/>
<rect x="891.81" y="1440.15" width="64.82" height="8.10" fill="#ffc37c"/>
<rect x="964.72" y="1440.15" width="24.31" height="8.10" fill="#ffc37c"/>
<rect x="997.13" y="1440.15" width="8.10" height="8.10" fill="#ffc37c"/>
<rect x="1013.34" y="1440.15" width="40.51" height="8.10" fill="#ffc37c"/>
<rect x="1102.46" y="1440.15" width="8.10" height="8.10" fill="#ffc37c"/>
<rect x="867.50" y="1448.24" width="32.41" height="8.10" fill="#ffc37c"/>
<rect x="908.01" y="1448.24" width="24.31" height="8.10" fill="#ffc37c"/>
<rect x="940.42" y="1448.24" width="8.10" height="8.10" fill="#ffc37c"/>
<rect x="964.72" y="1448.24" width="24.31" height="8.10" fill="#ffc37c"/>
<rect x="1021.44" y="1448.24" width="8.10" height="8.10" fill="#ffc37c"/>
<rect x="1053.85" y="1448.24" width="8.10" height="8.10" fill="#ffc37c"/>
<rect x="1086.25" y="1448.24" width="8.10" height="8.10" fill="#ffc37c"/>
<rect x="867.50" y="1456.34" width="64.82" height="8.10" fill="#ffc37c"/>
<rect x="940.42" y="1456.34" width="24.31" height="8.10" fill="#ffc37c"/>
<rect x="980.93" y="1456.34" width="8.10" height="8.10" fill="#ffc37c"/>
<rect x="1005.23" y="1456.34" width="24.31" height="8.10" fill="#ffc37c"/>
<rect x="1078.15" y="1456.34" width="8.10" height="8.10" fill="#ffc37c"/>
<rect x="867.50" y="1464.44" width="16.20" height="8.10" fill="#ffc37c"/>
<rect x="891.81" y="1464.44" width="89.12" height="8.10" fill="#ffc37c"/>
<rect x="989.03" y="1464.44" width="32.41" height="8.10" fill="#ffc37c"/>
<rect x="1029.54" y="1464.44" width="16.20" height="8.10" fill="#ffc37c"/>
<rect x="1061.95" y="1464.44" width="8.10" height="8.10" fill="#ffc37c"/>
<rect x="1094.36" y="1464.44" width="8.10" height="8.10" fill="#ffc37c"/>
<rect x="875.60" y="1472.54" width="105.33" height="8.10" fill="#ffc37c"/>
<rect x="989.03" y="1472.54" width="24.31" height="8.10" fill="#ffc37c"/>
<rect x="1021.44" y="1472.54" width="16.20" height="8.10" fill="#ffc37c"/>
<rect x="1045.74" y="1472.54" width="16.20" height="8.10" fill="#ffc37c"/>
<rect x="1070.05" y="1472.54" width="8.10" height="8.10" fill="#ffc37c"/>
<rect x="867.50" y="1480.64" width="48.61" height="8.10" fill="#ffc37c"/>
<rect x="924.21" y="1480.64" width="16.20" height="8.10" fill="#ffc37c"/>
<rect x="956.62" y="1480.64" width="56.71" height="8.10" fill="#ffc37c"/>
<rect x="1021.44" y="1480.64" width="16.20" height="8.10" fill="#ffc37c"/>
<rect x="1045.74" y="1480.64" width="16.20" height="8.10" fill="#ffc37c"/>
<rect x="1078.15" y="1480.64" width="8.10" height="8.10" fill="#ffc37c"/>
<rect x="867.50" y="1488.73" width="56.71" height="8.10" fill="#ffc37c"/>
<rect x="932.32" y="1488.73" width="8.10" height="8.10" fill="#ffc37c"/>
<rect x="948.52" y="1488.73" width="16.20" height="8.10" fill="#ffc37c"/>
<rect x="980.93" y="1488.73" width="32.41" height="8.10" fill="#ffc37c"/>
<rect x="1021.44" y="1488.73" width="24.31" height="8.10" fill="#ffc37c"/>
<rect x="1061.95" y="1488.73" width="8.10" height="8.10" fill="#ffc37c"/>
<rect x="1078.15" y="1488.73" width="8.10" height="8.10" fill="#ffc37c"/>
<rect x="867.50" y="1496.83" width="8.10" height="8.10" fill="#ffc37c"/>
<rect x="883.70" y="1496.83" width="162.04" height="8.10" fill="#ffc37c"/>
<rect x="1061.95" y="1496.83" width="8.10" height="8.10" fill="#ffc37c"/>
<rect x="1094.36" y="1496.83" width="8.10" height="8.10" fill="#ffc37c"/>
<rect x="867.50" y="1504.93" width="32.41" height="8.10" fill="#ffc37c"/>
<rect x="908.01" y="1504.93" width="48.61" height="8.10" fill="#ffc37c"/>
<rect x="964.72" y="1504.93" width="8.10" height="8.10" fill="#ffc37c"/>
<rect x="980.93" y="1504.93" width="48.61" height="8.10" fill="#ffc37c"/>
<rect x="1045.74" y="1504.93" width="16.20" height="8.10" fill="#ffc37c"/>
<rect x="1070.05" y="1504.93" width="8.10" height="8.10" fill="#ffc37c"/>
<rect x="1118.66" y="1504.93" width="8.10" height="8.10" fill="#ffc37c"/>
<rect x="867.50" y="1513.03" width="32.41" height="8.10" fill="#ffc37c"/>
<rect x="908.01" y="1513.03" width="48.61" height="8.10" fill="#ffc37c"/>
<rect x="972.83" y="1513.03" width="32.41" height="8.10" fill="#ffc37c"/>
<rect x="1013.34" y="1513.03" width="8.10" height="8.10" fill="#ffc37c"/>
<rect x="1029.54" y="1513.03" width="8.10" height="8.10" fill="#ffc37c"/>
<rect x="1078.15" y="1513.03" width="8.10" height="8.10" fill="#ffc37c"/>
<rect x="883.70" y="1521.13" width="8.10" height="8.10" fill="#ffc37c"/>
<rect x="908.01" y="1521.13" width="16.20" height="8.10" fill="#ffc37c"/>
<rect x="940.42" y="1521.13" width="24.31" height="8.10" fill="#ffc37c"/>
<rect x="972.83" y="1521.13" width="24.31" height="8.10" fill="#ffc37c"/>
<rect x="867.50" y="1529.22" width="40.51" height="8.10" fill="#ffc37c"/>
<rect x="916.11" y="1529.22" width="8.10" height="8.10" fill="#ffc37c"/>
<rect x="932.32" y="1529.22" width="48.61" height="8.10" fill="#ffc37c"/>
<rect x="989.03" y="1529.22" width="48.61" height="8.10" fill="#ffc37c"/>
<rect x="1070.05" y="1529.22" width="8.10" height="8.10" fill="#ffc37c"/>
<rect x="867.50" y="1537.32" width="8.10" height="8.10" fill="#ffc37c"/>
<rect x="883.70" y="1537.32" width="40.51" height="8.10" fill="#ffc37c"/>
<rect x="932.32" y="1537.32" width="56.71" height="8.10" fill="#ffc37c"/>
<rect x="997.13" y="1537.32" width="16.20" height="8.10" fill="#ffc37c"/>
<rect x="1029.54" y="1537.32" width="8.10" height="8.10" fill="#ffc37c"/>
<rect x="1053.85" y="1537.32" width="16.20" height="8.10" fill="#ffc37c"/>
<rect x="1094.36" y="1537.32" width="8.10" height="8.10" fill="#ffc37c"/>
<rect x="867.50" y="1545.42" width="8.10" height="8.10" fill="#ffc37c"/>
<rect x="899.91" y="1545.42" width="72.92" height="8.10" fill="#ffc37c"/>
<rect x="980.93" y="1545.42" width="8.10" height="8.10" fill="#ffc37c"/>
<rect x="997.13" y="1545.42" width="32.41" height="8.10" fill="#ffc37c"/>
<rect x="1037.64" y="1545.42" width="24.31" height="8.10" fill="#ffc37c"/>
<rect x="867.50" y="1553.52" width="8.10" height="8.10" fill="#ffc37c"/>
<rect x="891.81" y="1553.52" width="16.20" height="8.10" fill="#ffc37c"/>
<rect x="916.11" y="1553.52" width="8.10" height="8.10" fill="#ffc37c"/>
<rect x="932.32" y="1553.52" width="40.51" height="8.10" fill="#ffc37c"/>
<rect x="980.93" y="1553.52" width="24.31" height="8.10" fill="#ffc37c"/>
<rect x="1029.54" y="1553.52" width="24.31" height="8.10" fill="#ffc37c"/>
<rect x="1070.05" y="1553.52" width="8.10" height="8.10" fill="#ffc37c"/>
<rect x="1102.46" y="1553.52" width="8.10" height="8.10" fill="#ffc37c"/>
<rect x="867.50" y="1561.62" width="8.10" height="8.10" fill="#ffc37c"/>
<rect x="891.81" y="1561.62" width="24.31" height="8.10" fill="#ffc37c"/>
<rect x="924.21" y="1561.62" width="24.31" height="8.10" fill="#ffc37c"/>
<rect x="964.72" y="1561.62" width="8.10" height="8.10" fill="#ffc37c"/>
<rect x="980.93" y="1561.62" width="16.20" height="8.10" fill="#ffc37c"/>
<rect x="1005.23" y="1561.62" width="24.31" height="8.10" fill="#ffc37c"/>
<rect x="1045.74" y="1561.62" width="8.10" height="8.10" fill="#ffc37c"/>
<rect x="1070.05" y="1561.62" width="16.20" height="8.10" fill="#ffc37c"/>
<rect x="1110.56" y="1561.62" width="8.10" height="8.10" fill="#ffc37c"/>
<rect x="867.50" y="1569.71" width="8.10" height="8.10" fill="#ffc37c"/>
<rect x="916.11" y="1569.71" width="8.10" height="8.10" fill="#ffc37c"/>
<rect x="940.42" y="1569.71" width="16.20" height="8.10" fill="#ffc37c"/>
<rect x="972.83" y="1569.71" width="32.41" height="8.10" fill="#ffc37c"/>
<rect x="1029.54" y="1569.71" width="8.10" height="8.10" fill="#ffc37c"/>
<rect x="1045.74" y="1569.71" width="8.10" height="8.10" fill="#ffc37c"/>
<rect x="1061.95" y="1569.71" width="8.10" height="8.10" fill="#ffc37c"/>
<rect x="867.50" y="1577.81" width="8.10" height="8.10" fill="#ffc37c"/>
<rect x="924.21" y="1577.81" width="16.20" height="8.10" fill="#ffc37c"/>
<rect x="964.72" y="1577.81" width="48.61" height="8.10" fill="#ffc37c"/>
<rect x="1037.64" y="1577.81" width="8.10" height="8.10" fill="#ffc37c"/>
<rect x="1053.85" y="1577.81" width="8.10" height="8.10" fill="#ffc37c"/>
<rect x="1070.05" y="1577.81" width="8.10" height="8.10" fill="#ffc37c"/>
<rect x="867.50" y="1585.91" width="8.10" height="8.10" fill="#ffc37c"/>
<rect x="924.21" y="1585.91" width="8.10" height="8.10" fill="#ffc37c"/>
<rect x="940.42" y="1585.91" width="16.20" height="8.10" fill="#ffc37c"/>
<rect x="972.83" y="1585.91" width="40.51" height="8.10" fill="#ffc37c"/>
<rect x="1045.74" y="1585.91" width="8.10" height="8.10" fill="#ffc37c"/>
<rect x="956.62" y="1594.01" width="8.10" height="8.10" fill="#ffc37c"/>
<rect x="867.50" y="1602.11" width="8.10" height="8.10" fill="#ffc37c"/>
<rect x="997.13" y="1602.11" width="16.20" height="8.10" fill="#ffc37c"/>
</g>
</g>
<line x1="867.50" y1="1430.20" x2="1272.60" y2="1430.20" stroke="#000" stroke-width="2" stroke-dasharray="15.7 6.4"/>
<line x1="867.50" y1="1484.50" x2="1272.60" y2="1484.50" stroke="#000" stroke-width="2" stroke-dasharray="15.7 6.4"/>
<line x1="867.50" y1="1538.30" x2="1272.60" y2="1538.30" stroke="#000" stroke-width="2" stroke-dasharray="15.7 6.4"/>
<line x1="998.20" y1="1225.50" x2="998.20" y2="1626.40" stroke="#000" stroke-width="2" stroke-dasharray="15.7 6.4" stroke-dashoffset="9.5"/>
<line x1="1133.00" y1="1225.50" x2="1133.00" y2="1626.40" stroke="#000" stroke-width="2" stroke-dasharray="15.7 6.4" stroke-dashoffset="9.5"/>
<line x1="867.50" y1="1221.50" x2="1272.60" y2="1221.50" stroke="#000" stroke-width="1.3"/>
<line x1="1272.60" y1="1221.50" x2="1272.60" y2="1626.40" stroke="#222" stroke-width="1.3"/>
<line x1="867.50" y1="1220.90" x2="867.50" y2="1627.00" stroke="#000" stroke-width="1.3"/>
<line x1="866.90" y1="1626.40" x2="1273.20" y2="1626.40" stroke="#000" stroke-width="1.3"/>
<rect x="867.50" y="1221.50" width="4.3" height="4.3" fill="none" stroke="#111" stroke-width="0.9"/>
<rect x="1268.30" y="1221.50" width="4.3" height="4.3" fill="none" stroke="#111" stroke-width="0.9"/>
<rect x="867.50" y="1622.10" width="4.3" height="4.3" fill="none" stroke="#111" stroke-width="0.9"/>
<rect x="1268.30" y="1622.10" width="4.3" height="4.3" fill="none" stroke="#111" stroke-width="0.9"/>
<line x1="1070.05" y1="1221.5" x2="1070.05" y2="1225.5" stroke="#333" stroke-width="1"/>
<line x1="1070.05" y1="1626.4" x2="1070.05" y2="1622.4" stroke="#333" stroke-width="1"/>
<text x="819.31" y="1240.50" font-size="42">12</text>
<text x="839.68" y="1499.20" font-size="42">0</text>
<text x="815.53" y="1635.60" font-size="42">−6</text>
<text x="861.00" y="1667.70" font-size="42">0</text>
<text x="1043.75" y="1667.70" font-size="42">0.5</text>
<text x="1256.87" y="1667.70" font-size="42">1</text>
<defs><clipPath id="clip22"><rect x="1388.50" y="1221.50" width="404.90" height="404.90"/></clipPath></defs>
<g clip-path="url(#clip22)">
<polygon points="1796.40,1229.90 1786.60,1229.90 1786.60,1238.00 1778.50,1238.00 1778.50,1246.09 1770.41,1246.09 1770.41,1254.19 1762.31,1254.19 1762.31,1262.29 1754.21,1262.29 1754.21,1270.39 1746.11,1270.39 1746.11,1278.49 1738.01,1278.49 1738.01,1286.58 1729.92,1286.58 1729.92,1294.68 1721.82,1294.68 1721.82,1302.78 1713.72,1302.78 1713.72,1310.88 1705.62,1310.88 1705.62,1318.98 1697.52,1318.98 1697.52,1327.07 1689.43,1327.07 1689.43,1335.17 1681.33,1335.17 1681.33,1343.27 1673.23,1343.27 1673.23,1351.37 1665.13,1351.37 1665.13,1359.47 1657.03,1359.47 1657.03,1367.56 1648.94,1367.56 1648.94,1375.66 1640.84,1375.66 1640.84,1383.76 1632.74,1383.76 1632.74,1391.86 1624.64,1391.86 1624.64,1399.96 1616.54,1399.96 1616.54,1408.05 1608.45,1408.05 1608.45,1416.15 1600.35,1416.15 1600.35,1424.25 1592.25,1424.25 1592.25,1432.35 1584.15,1432.35 1584.15,1440.45 1576.05,1440.45 1576.05,1448.54 1567.96,1448.54 1567.96,1456.64 1559.86,1456.64 1559.86,1464.74 1551.76,1464.74 1551.76,1472.84 1543.66,1472.84 1543.66,1480.94 1535.56,1480.94 1535.56,1489.03 1527.47,1489.03 1527.47,1497.13 1519.37,1497.13 1519.37,1505.23 1511.27,1505.23 1511.27,1513.33 1503.17,1513.33 1503.17,1521.43 1495.07,1521.43 1495.07,1529.52 1486.98,1529.52 1486.98,1537.62 1478.88,1537.62 1478.88,1545.72 1470.78,1545.72 1470.78,1553.82 1462.68,1553.82 1462.68,1561.92 1454.58,1561.92 1454.58,1570.01 1446.49,1570.01 1446.49,1578.11 1438.39,1578.11 1438.39,1586.21 1430.29,1586.21 1430.29,1594.31 1422.19,1594.31 1422.19,1602.41 1414.09,1602.41 1414.09,1610.50 1406.00,1610.50 1406.00,1618.60 1397.90,1618.60 1397.90,1626.70 1796.40,1629.40" fill="#cccccc"/>
<g shape-rendering="crispEdges">
<rect x="1535.56" y="1229.90" width="8.10" height="8.10" fill="#ffc37c"/>
<rect x="1527.47" y="1246.09" width="8.10" height="8.10" fill="#ffc37c"/>
<rect x="1600.35" y="1246.09" width="8.10" height="8.10" fill="#ffc37c"/>
<rect x="1527.47" y="1254.19" width="8.10" height="8.10" fill="#ffc37c"/>
<rect x="1527.47" y="1262.29" width="8.10" height="8.10" fill="#ffc37c"/>
<rect x="1600.35" y="1262.29" width="8.10" height="8.10" fill="#ffc37c"/>
<rect x="1527.47" y="1270.39" width="8.10" height="8.10" fill="#ffc37c"/>
<rect x="1527.47" y="1278.49" width="8.10" height="8.10" fill="#ffc37c"/>
<rect x="1527.47" y="1286.58" width="8.10" height="8.10" fill="#ffc37c"/>
<rect x="1592.25" y="1286.58" width="16.20" height="8.10" fill="#ffc37c"/>
<rect x="1527.47" y="1294.68" width="8.10" height="8.10" fill="#ffc37c"/>
<rect x="1592.25" y="1294.68" width="8.10" height="8.10" fill="#ffc37c"/>
<rect x="1527.47" y="1302.78" width="8.10" height="8.10" fill="#ffc37c"/>
<rect x="1527.47" y="1310.88" width="8.10" height="8.10" fill="#ffc37c"/>
<rect x="1592.25" y="1310.88" width="8.10" height="8.10" fill="#ffc37c"/>
<rect x="1632.74" y="1310.88" width="8.10" height="8.10" fill="#ffc37c"/>
<rect x="1519.37" y="1318.98" width="8.10" height="8.10" fill="#ffc37c"/>
<rect x="1584.15" y="1318.98" width="8.10" height="8.10" fill="#ffc37c"/>
<rect x="1519.37" y="1327.07" width="8.10" height="8.10" fill="#ffbb77"/>
<rect x="1584.15" y="1327.07" width="8.10" height="8.10" fill="#ffc37c"/>
<rect x="1519.37" y="1335.17" width="8.10" height="8.10" fill="#ffc37c"/>
<rect x="1584.15" y="1335.17" width="8.10" height="8.10" fill="#ffc37c"/>
<rect x="1616.54" y="1335.17" width="16.20" height="8.10" fill="#ffc37c"/>
<rect x="1519.37" y="1343.27" width="8.10" height="8.10" fill="#ffc37c"/>
<rect x="1576.05" y="1343.27" width="8.10" height="8.10" fill="#ffc37c"/>
<rect x="1616.54" y="1343.27" width="8.10" height="8.10" fill="#ffc37c"/>
<rect x="1640.84" y="1343.27" width="8.10" height="8.10" fill="#ffc37c"/>
<rect x="1511.27" y="1351.37" width="8.10" height="8.10" fill="#ffc37c"/>
<rect x="1576.05" y="1351.37" width="8.10" height="8.10" fill="#ffc37c"/>
<rect x="1608.45" y="1351.37" width="8.10" height="8.10" fill="#ffc37c"/>
<rect x="1511.27" y="1359.47" width="8.10" height="8.10" fill="#ffc37c"/>
<rect x="1567.96" y="1359.47" width="8.10" height="8.10" fill="#ffc37c"/>
<rect x="1600.35" y="1359.47" width="8.10" height="8.10" fill="#ffc37c"/>
<rect x="1511.27" y="1367.56" width="8.10" height="8.10" fill="#ffc37c"/>
<rect x="1559.86" y="1367.56" width="16.20" height="8.10" fill="#ffc37c"/>
<rect x="1600.35" y="1367.56" width="8.10" height="8.10" fill="#ffc37c"/>
<rect x="1624.64" y="1367.56" width="8.10" height="8.10" fill="#ffc37c"/>
<rect x="1503.17" y="1375.66" width="16.20" height="8.10" fill="#ffc37c"/>
<rect x="1559.86" y="1375.66" width="8.10" height="8.10" fill="#ffc37c"/>
<rect x="1592.25" y="1375.66" width="8.10" height="8.10" fill="#ffc37c"/>
<rect x="1616.54" y="1375.66" width="8.10" height="8.10" fill="#ffc37c"/>
<rect x="1503.17" y="1383.76" width="8.10" height="8.10" fill="#ffc37c"/>
<rect x="1551.76" y="1383.76" width="16.20" height="8.10" fill="#ffc37c"/>
<rect x="1503.17" y="1391.86" width="8.10" height="8.10" fill="#ffc37c"/>
<rect x="1551.76" y="1391.86" width="8.10" height="8.10" fill="#ffc37c"/>
<rect x="1576.05" y="1391.86" width="8.10" height="8.10" fill="#ffc37c"/>
<rect x="1495.07" y="1399.96" width="8.10" height="8.10" fill="#ffc37c"/>
<rect x="1543.66" y="1399.96" width="16.20" height="8.10" fill="#ffc37c"/>
<rect x="1592.25" y="1399.96" width="8.10" height="8.10" fill="#ffc37c"/>
<rect x="1495.07" y="1408.05" width="8.10" height="8.10" fill="#ffc37c"/>
<rect x="1543.66" y="1408.05" width="8.10" height="8.10" fill="#ffc37c"/>
<rect x="1567.96" y="1408.05" width="8.10" height="8.10" fill="#ffc37c"/>
<rect x="1600.35" y="1408.05" width="8.10" height="8.10" fill="#ffc37c"/>
<rect x="1495.07" y="1416.15" width="8.10" height="8.10" fill="#ffc37c"/>
<rect x="1535.56" y="1416.15" width="8.10" height="8.10" fill="#ffc37c"/>
<rect x="1559.86" y="1416.15" width="24.29" height="8.10" fill="#ffc37c"/>
<rect x="1486.98" y="1424.25" width="8.10" height="8.10" fill="#ffc37c"/>
<rect x="1527.47" y="1424.25" width="16.20" height="8.10" fill="#ffc37c"/>
<rect x="1551.76" y="1424.25" width="16.20" height="8.10" fill="#ffc37c"/>
<rect x="1576.05" y="1424.25" width="8.10" height="8.10" fill="#ffc37c"/>
<rect x="1486.98" y="1432.35" width="8.10" height="8.10" fill="#ffc37c"/>
<rect x="1527.47" y="1432.35" width="8.10" height="8.10" fill="#ffc37c"/>
<rect x="1543.66" y="1432.35" width="16.20" height="8.10" fill="#ffc37c"/>
<rect x="1567.96" y="1432.35" width="8.10" height="8.10" fill="#ffc37c"/>
<rect x="1486.98" y="1440.45" width="8.10" height="8.10" fill="#ffc37c"/>
<rect x="1519.37" y="1440.45" width="8.10" height="8.10" fill="#ffb372"/>
<rect x="1543.66" y="1440.45" width="8.10" height="8.10" fill="#ffb372"/>
<rect x="1478.88" y="1448.54" width="8.10" height="8.10" fill="#ffc37c"/>
<rect x="1519.37" y="1448.54" width="8.10" height="8.10" fill="#ffc37c"/>
<rect x="1535.56" y="1448.54" width="24.29" height="8.10" fill="#ffc37c"/>
<rect x="1478.88" y="1456.64" width="8.10" height="8.10" fill="#ffc37c"/>
<rect x="1511.27" y="1456.64" width="8.10" height="8.10" fill="#ffb372"/>
<rect x="1527.47" y="1456.64" width="32.39" height="8.10" fill="#ffc37c"/>
<rect x="1470.78" y="1464.74" width="8.10" height="8.10" fill="#ffc37c"/>
<rect x="1503.17" y="1464.74" width="16.20" height="8.10" fill="#ffc37c"/>
<rect x="1527.47" y="1464.74" width="16.20" height="8.10" fill="#ffc37c"/>
<rect x="1470.78" y="1472.84" width="8.10" height="8.10" fill="#ffc37c"/>
<rect x="1495.07" y="1472.84" width="40.49" height="8.10" fill="#ffc37c"/>
<rect x="1462.68" y="1480.94" width="8.10" height="8.10" fill="#ffc37c"/>
<rect x="1495.07" y="1480.94" width="32.39" height="8.10" fill="#ffc37c"/>
<rect x="1462.68" y="1489.03" width="8.10" height="8.10" fill="#ffc37c"/>
<rect x="1486.98" y="1489.03" width="8.10" height="8.10" fill="#ffc37c"/>
<rect x="1503.17" y="1489.03" width="16.20" height="8.10" fill="#ffc37c"/>
<rect x="1454.58" y="1497.13" width="8.10" height="8.10" fill="#ffc37c"/>
<rect x="1478.88" y="1497.13" width="32.39" height="8.10" fill="#ffc37c"/>
<rect x="1454.58" y="1505.23" width="8.10" height="8.10" fill="#ffc37c"/>
<rect x="1478.88" y="1505.23" width="24.29" height="8.10" fill="#ffc37c"/>
<rect x="1446.49" y="1513.33" width="8.10" height="8.10" fill="#ffc37c"/>
<rect x="1470.78" y="1513.33" width="8.10" height="8.10" fill="#ffb372"/>
<rect x="1478.88" y="1513.33" width="16.20" height="8.10" fill="#ffc37c"/>
<rect x="1446.49" y="1521.43" width="8.10" height="8.10" fill="#ffc37c"/>
<rect x="1462.68" y="1521.43" width="24.29" height="8.10" fill="#ffc37c"/>
<rect x="1438.39" y="1529.52" width="8.10" height="8.10" fill="#ffc37c"/>
<rect x="1454.58" y="1529.52" width="32.39" height="8.10" fill="#ffc37c"/>
<rect x="1438.39" y="1537.62" width="40.49" height="8.10" fill="#ffc37c"/>
<rect x="1430.29" y="1545.72" width="8.10" height="8.10" fill="#ffb372"/>
<rect x="1446.49" y="1545.72" width="24.29" height="8.10" fill="#ffc37c"/>
<rect x="1430.29" y="1553.82" width="32.39" height="8.10" fill="#ffc37c"/>
<rect x="1422.19" y="1561.92" width="24.29" height="8.10" fill="#ffc37c"/>
<rect x="1422.19" y="1570.01" width="16.20" height="8.10" fill="#ffc37c"/>
<rect x="1414.09" y="1578.11" width="8.10" height="8.10" fill="#ec955f"/>
<rect x="1422.19" y="1578.11" width="8.10" height="8.10" fill="#ffc37c"/>
<rect x="1406.00" y="1586.21" width="24.29" height="8.10" fill="#ffc37c"/>
<rect x="1406.00" y="1594.31" width="16.20" height="8.10" fill="#ffbb77"/>
<rect x="1397.90" y="1602.41" width="16.20" height="8.10" fill="#ffbb77"/>
<rect x="1389.80" y="1610.50" width="16.20" height="8.10" fill="#ffbb77"/>
<rect x="1389.80" y="1618.60" width="8.10" height="8.10" fill="#ad6e46"/>
</g>
<polygon points="1388.50,1626.40 1388.50,1626.40 1389.15,1625.40 1389.96,1624.15 1390.92,1622.68 1391.99,1621.04 1393.16,1619.25 1394.39,1617.36 1395.66,1615.38 1396.95,1613.37 1398.24,1611.35 1399.49,1609.35 1400.68,1607.42 1401.78,1605.59 1402.82,1603.82 1403.83,1602.07 1404.82,1600.32 1405.79,1598.58 1406.76,1596.82 1407.72,1595.06 1408.68,1593.27 1409.66,1591.46 1410.66,1589.61 1411.67,1587.73 1412.72,1585.79 1413.81,1583.80 1414.92,1581.76 1416.06,1579.68 1417.23,1577.55 1418.41,1575.38 1419.61,1573.18 1420.82,1570.95 1422.04,1568.70 1423.28,1566.43 1424.53,1564.13 1425.78,1561.83 1427.04,1559.52 1428.30,1557.20 1429.58,1554.87 1430.89,1552.51 1432.22,1550.12 1433.56,1547.72 1434.91,1545.29 1436.27,1542.86 1437.62,1540.41 1438.96,1537.96 1440.29,1535.52 1441.59,1533.07 1442.86,1530.64 1444.09,1528.21 1445.29,1525.79 1446.47,1523.35 1447.63,1520.91 1448.77,1518.46 1449.89,1516.01 1450.99,1513.57 1452.08,1511.13 1453.16,1508.71 1454.24,1506.30 1455.30,1503.91 1456.36,1501.55 1457.41,1499.22 1458.46,1496.92 1459.49,1494.65 1460.50,1492.40 1461.50,1490.17 1462.50,1487.96 1463.48,1485.77 1464.46,1483.58 1465.44,1481.39 1466.43,1479.21 1467.41,1477.02 1468.40,1474.83 1469.40,1472.62 1470.41,1470.40 1471.42,1468.17 1472.45,1465.93 1473.47,1463.69 1474.50,1461.45 1475.52,1459.21 1476.54,1456.98 1477.56,1454.76 1478.56,1452.56 1479.56,1450.38 1480.54,1448.23 1481.51,1446.10 1482.46,1444.00 1483.40,1441.93 1484.34,1439.88 1485.27,1437.85 1486.19,1435.84 1487.10,1433.84 1488.00,1431.85 1488.90,1429.87 1489.79,1427.88 1490.66,1425.89 1491.53,1423.89 1492.40,1421.89 1493.25,1419.88 1494.10,1417.88 1494.94,1415.90 1495.77,1413.91 1496.60,1411.93 1497.41,1409.95 1498.22,1407.95 1499.02,1405.95 1499.81,1403.93 1500.59,1401.88 1501.36,1399.81 1502.11,1397.71 1502.86,1395.58 1503.60,1393.42 1504.33,1391.23 1505.05,1389.03 1505.76,1386.80 1506.46,1384.56 1507.15,1382.32 1507.83,1380.07 1508.51,1377.82 1509.18,1375.57 1509.84,1373.34 1510.50,1371.11 1511.15,1368.88 1511.80,1366.62 1512.45,1364.35 1513.10,1362.06 1513.74,1359.78 1514.36,1357.50 1514.98,1355.25 1515.58,1353.01 1516.16,1350.81 1516.73,1348.66 1517.27,1346.55 1517.78,1344.51 1518.27,1342.54 1518.73,1340.64 1519.16,1338.80 1519.57,1337.00 1519.96,1335.25 1520.34,1333.51 1520.71,1331.78 1521.08,1330.04 1521.45,1328.29 1521.82,1326.51 1522.21,1324.69 1522.60,1322.81 1523.01,1320.89 1523.43,1318.97 1523.85,1317.04 1524.28,1315.10 1524.70,1313.14 1525.13,1311.15 1525.55,1309.15 1525.96,1307.11 1526.37,1305.04 1526.76,1302.93 1527.14,1300.79 1527.50,1298.59 1527.85,1296.33 1528.20,1293.98 1528.54,1291.57 1528.87,1289.11 1529.19,1286.61 1529.50,1284.10 1529.80,1281.58 1530.09,1279.09 1530.37,1276.63 1530.63,1274.21 1530.88,1271.87 1531.11,1269.60 1531.32,1267.42 1531.52,1265.29 1531.70,1263.21 1531.87,1261.17 1532.03,1259.16 1532.18,1257.18 1532.31,1255.21 1532.43,1253.26 1532.54,1251.31 1532.64,1249.35 1532.73,1247.38 1532.81,1245.39 1532.87,1243.31 1532.91,1241.11 1532.94,1238.83 1532.96,1236.52 1532.96,1234.20 1532.95,1231.93 1532.94,1229.74 1532.93,1227.68 1532.91,1225.78 1532.90,1224.10 1532.89,1222.65 1532.89,1221.50 1388.50,1221.50" fill="#cccccc"/>
</g>
<line x1="1388.50" y1="1221.50" x2="1793.40" y2="1221.50" stroke="#000" stroke-width="1.3"/>
<line x1="1793.40" y1="1221.50" x2="1793.40" y2="1626.40" stroke="#222" stroke-width="1.3"/>
<line x1="1388.50" y1="1220.90" x2="1388.50" y2="1627.00" stroke="#000" stroke-width="1.3"/>
<line x1="1387.90" y1="1626.40" x2="1794.00" y2="1626.40" stroke="#000" stroke-width="1.3"/>
<rect x="1388.50" y="1221.50" width="4.3" height="4.3" fill="none" stroke="#111" stroke-width="0.9"/>
<rect x="1789.10" y="1221.50" width="4.3" height="4.3" fill="none" stroke="#111" stroke-width="0.9"/>
<rect x="1388.50" y="1622.10" width="4.3" height="4.3" fill="none" stroke="#111" stroke-width="0.9"/>
<rect x="1789.10" y="1622.10" width="4.3" height="4.3" fill="none" stroke="#111" stroke-width="0.9"/>
<line x1="1590.95" y1="1221.5" x2="1590.95" y2="1225.5" stroke="#333" stroke-width="1"/>
<line x1="1590.95" y1="1626.4" x2="1590.95" y2="1622.4" stroke="#333" stroke-width="1"/>
<text x="1359.82" y="1240.60" font-size="42">1</text>
<text x="1358.98" y="1637.60" font-size="42">0</text>
<text x="1381.60" y="1667.70" font-size="42">0</text>
<text x="1564.75" y="1667.70" font-size="42">0.5</text>
<text x="1778.17" y="1667.70" font-size="42">1</text>
<text x="513.0" y="1714.9" font-size="41" font-style="italic" textLength="23.5" lengthAdjust="spacingAndGlyphs">h</text>
<text x="537.0" y="1700.4" font-size="29" font-style="italic">l</text>
<text x="1060.0" y="1698.7" font-size="41" font-style="italic">p</text>
<text x="1580.0" y="1698.7" font-size="41" font-style="italic">p</text>
<text transform="translate(269.0,1443.5) rotate(-90)" font-size="41" font-style="italic" textLength="23.5" lengthAdjust="spacingAndGlyphs">h</text>
<text transform="translate(255.0,1422.0) rotate(-90)" font-size="29" font-style="italic" textLength="17.5" lengthAdjust="spacingAndGlyphs">g</text>
<text transform="translate(811.0,1443.5) rotate(-90)" font-size="41" font-style="italic" textLength="23.5" lengthAdjust="spacingAndGlyphs">h</text>
<text transform="translate(797.0,1422.0) rotate(-90)" font-size="29" font-style="italic" textLength="17.5" lengthAdjust="spacingAndGlyphs">g</text>
<text transform="translate(1353.5,1434.0) rotate(-90)" font-size="41" font-style="italic">d</text>
<text transform="translate(93.3,1542.9) rotate(-90)" font-size="40" textLength="203.5" lengthAdjust="spacingAndGlyphs">occurrence</text>
<text transform="translate(100.7,1324.5) rotate(-90)" font-size="55" textLength="31.7" lengthAdjust="spacingAndGlyphs">#</text>
<text transform="translate(28.0,372.0) rotate(-90)" font-size="42" font-weight="bold" textLength="215" lengthAdjust="spacingAndGlyphs">C. elegans</text>
<text transform="translate(28.8,884.0) rotate(-90)" font-size="42" font-weight="bold" textLength="74" lengthAdjust="spacingAndGlyphs">Cat</text>
<text transform="translate(28.5,1568.8) rotate(-90)" font-size="42" font-weight="bold" textLength="301.8" lengthAdjust="spacingAndGlyphs">Human cortex</text>
</svg>
</body></html>
